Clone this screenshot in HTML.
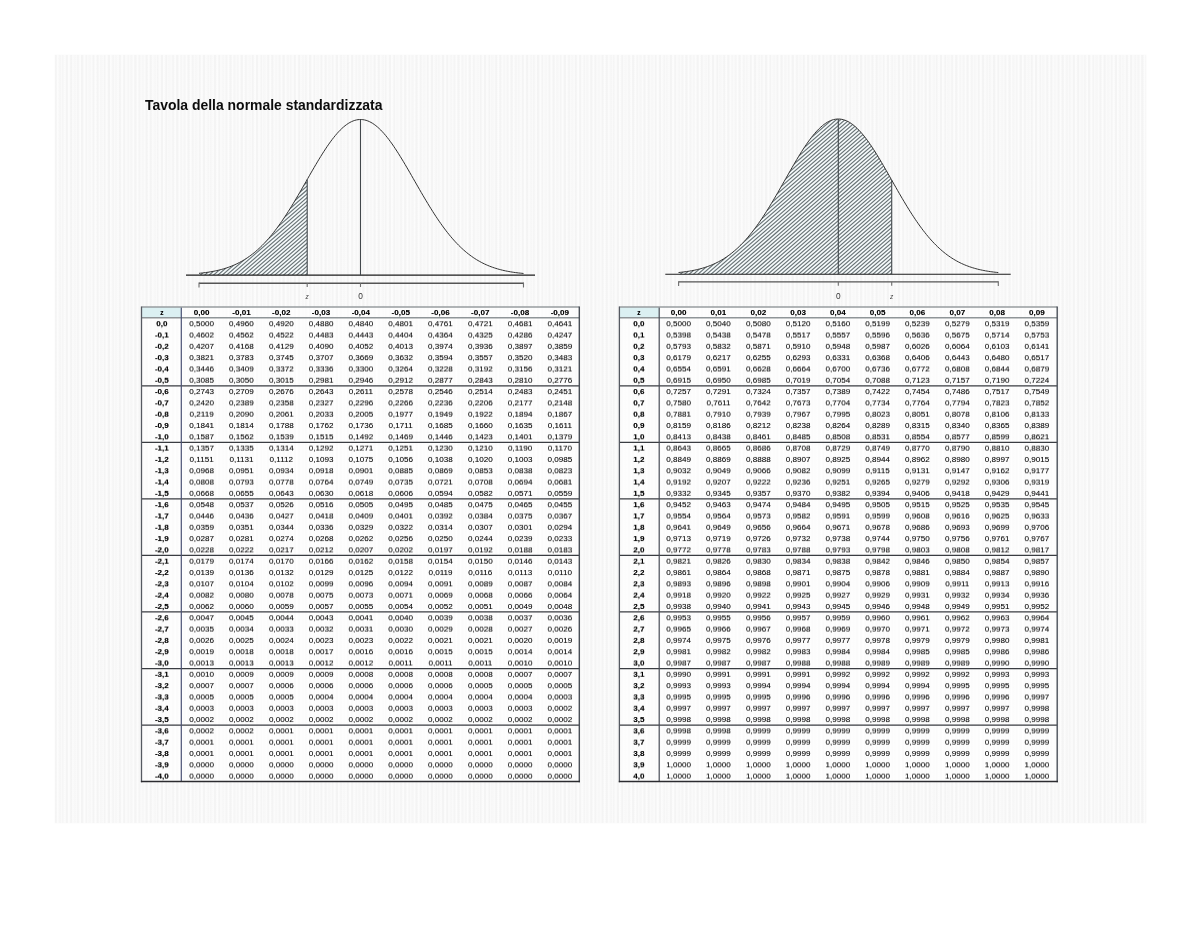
<!DOCTYPE html>
<html><head><meta charset="utf-8"><title>Tavola della normale standardizzata</title>
<style>
html,body{margin:0;padding:0;background:#fff;}
body{width:1200px;height:927px;position:relative;overflow:hidden;font-family:"Liberation Sans",sans-serif;}
.page{position:absolute;left:54.5px;top:54.5px;width:1091px;height:768.5px;background-color:#f9f9f9;
background-image:repeating-linear-gradient(90deg,rgba(0,0,0,0.010) 0px,rgba(0,0,0,0.010) 1.2px,rgba(255,255,255,0.35) 2.2px,rgba(255,255,255,0.35) 2.9px,rgba(0,0,0,0.010) 3.8px),repeating-linear-gradient(90deg,rgba(0,0,0,0.009) 0px,rgba(0,0,0,0.009) 1.6px,rgba(255,255,255,0.3) 2.8px,rgba(255,255,255,0.3) 4.1px,rgba(0,0,0,0.009) 5.3px);box-shadow:0 0 1px 0.4px rgba(249,249,249,0.9);}
.title{position:absolute;left:145px;top:95.7px;font-weight:bold;font-size:15.3px;color:#0c0c0c;white-space:nowrap;transform-origin:0 0;transform:scaleX(0.911);}
.tbl{position:absolute;}
.tbl .r{position:absolute;left:0;width:100%;transform-origin:0 0;filter:blur(0.3px);}
.tbl .c{position:absolute;top:0;height:100%;text-align:center;font-size:8.1px;color:#111;text-shadow:0 0 0.6px rgba(20,20,20,0.45);white-space:nowrap;}
.tbl .b{font-weight:bold;color:#000;}
.lbl{position:absolute;font-size:8.3px;color:#333;filter:blur(0.35px);}
svg{position:absolute;left:0;top:0;}
</style></head><body>
<div class="page"></div>
<div class="title">Tavola della normale standardizzata</div>

<svg width="1200" height="927" viewBox="0 0 1200 927">
<clipPath id="ch1"><path d="M199.00,275.10 L199.00,273.32 L200.08,273.21 L201.16,273.10 L202.25,272.98 L203.33,272.85 L204.41,272.71 L205.49,272.57 L206.57,272.42 L207.66,272.27 L208.74,272.10 L209.82,271.93 L210.90,271.75 L211.98,271.56 L213.07,271.36 L214.15,271.15 L215.23,270.93 L216.31,270.70 L217.39,270.46 L218.48,270.20 L219.56,269.94 L220.64,269.66 L221.72,269.37 L222.80,269.07 L223.89,268.76 L224.97,268.43 L226.05,268.09 L227.13,267.73 L228.21,267.36 L229.30,266.97 L230.38,266.57 L231.46,266.15 L232.54,265.71 L233.62,265.25 L234.71,264.78 L235.79,264.29 L236.87,263.78 L237.95,263.25 L239.03,262.70 L240.12,262.13 L241.20,261.54 L242.28,260.93 L243.36,260.30 L244.44,259.65 L245.53,258.97 L246.61,258.27 L247.69,257.55 L248.77,256.80 L249.85,256.03 L250.94,255.24 L252.02,254.42 L253.10,253.57 L254.18,252.70 L255.26,251.80 L256.35,250.88 L257.43,249.93 L258.51,248.95 L259.59,247.95 L260.67,246.92 L261.76,245.86 L262.84,244.78 L263.92,243.67 L265.00,242.53 L266.08,241.36 L267.17,240.16 L268.25,238.94 L269.33,237.69 L270.41,236.41 L271.49,235.10 L272.58,233.76 L273.66,232.40 L274.74,231.01 L275.82,229.60 L276.90,228.15 L277.99,226.68 L279.07,225.19 L280.15,223.67 L281.23,222.12 L282.31,220.55 L283.40,218.96 L284.48,217.34 L285.56,215.70 L286.64,214.04 L287.72,212.35 L288.81,210.65 L289.89,208.92 L290.97,207.18 L292.05,205.42 L293.13,203.64 L294.22,201.85 L295.30,200.04 L296.38,198.21 L297.46,196.38 L298.54,194.53 L299.63,192.67 L300.71,190.81 L301.79,188.94 L302.87,187.06 L303.95,185.17 L305.04,183.28 L306.12,181.39 L307.20,179.50 L307.20,275.10 Z"/></clipPath>
<path d="M199.00,275.10 L199.00,273.32 L200.08,273.21 L201.16,273.10 L202.25,272.98 L203.33,272.85 L204.41,272.71 L205.49,272.57 L206.57,272.42 L207.66,272.27 L208.74,272.10 L209.82,271.93 L210.90,271.75 L211.98,271.56 L213.07,271.36 L214.15,271.15 L215.23,270.93 L216.31,270.70 L217.39,270.46 L218.48,270.20 L219.56,269.94 L220.64,269.66 L221.72,269.37 L222.80,269.07 L223.89,268.76 L224.97,268.43 L226.05,268.09 L227.13,267.73 L228.21,267.36 L229.30,266.97 L230.38,266.57 L231.46,266.15 L232.54,265.71 L233.62,265.25 L234.71,264.78 L235.79,264.29 L236.87,263.78 L237.95,263.25 L239.03,262.70 L240.12,262.13 L241.20,261.54 L242.28,260.93 L243.36,260.30 L244.44,259.65 L245.53,258.97 L246.61,258.27 L247.69,257.55 L248.77,256.80 L249.85,256.03 L250.94,255.24 L252.02,254.42 L253.10,253.57 L254.18,252.70 L255.26,251.80 L256.35,250.88 L257.43,249.93 L258.51,248.95 L259.59,247.95 L260.67,246.92 L261.76,245.86 L262.84,244.78 L263.92,243.67 L265.00,242.53 L266.08,241.36 L267.17,240.16 L268.25,238.94 L269.33,237.69 L270.41,236.41 L271.49,235.10 L272.58,233.76 L273.66,232.40 L274.74,231.01 L275.82,229.60 L276.90,228.15 L277.99,226.68 L279.07,225.19 L280.15,223.67 L281.23,222.12 L282.31,220.55 L283.40,218.96 L284.48,217.34 L285.56,215.70 L286.64,214.04 L287.72,212.35 L288.81,210.65 L289.89,208.92 L290.97,207.18 L292.05,205.42 L293.13,203.64 L294.22,201.85 L295.30,200.04 L296.38,198.21 L297.46,196.38 L298.54,194.53 L299.63,192.67 L300.71,190.81 L301.79,188.94 L302.87,187.06 L303.95,185.17 L305.04,183.28 L306.12,181.39 L307.20,179.50 L307.20,275.10 Z" fill="#f5fafb" stroke="none"/>
<path d="M197.00,114.50 L309.20,16.97 M197.00,118.30 L309.20,20.77 M197.00,122.11 L309.20,24.57 M197.00,125.91 L309.20,28.37 M197.00,129.71 L309.20,32.18 M197.00,133.51 L309.20,35.98 M197.00,137.32 L309.20,39.78 M197.00,141.12 L309.20,43.59 M197.00,144.92 L309.20,47.39 M197.00,148.73 L309.20,51.19 M197.00,152.53 L309.20,54.99 M197.00,156.33 L309.20,58.80 M197.00,160.13 L309.20,62.60 M197.00,163.94 L309.20,66.40 M197.00,167.74 L309.20,70.21 M197.00,171.54 L309.20,74.01 M197.00,175.34 L309.20,77.81 M197.00,179.15 L309.20,81.61 M197.00,182.95 L309.20,85.42 M197.00,186.75 L309.20,89.22 M197.00,190.56 L309.20,93.02 M197.00,194.36 L309.20,96.82 M197.00,198.16 L309.20,100.63 M197.00,201.96 L309.20,104.43 M197.00,205.77 L309.20,108.23 M197.00,209.57 L309.20,112.04 M197.00,213.37 L309.20,115.84 M197.00,217.18 L309.20,119.64 M197.00,220.98 L309.20,123.44 M197.00,224.78 L309.20,127.25 M197.00,228.58 L309.20,131.05 M197.00,232.39 L309.20,134.85 M197.00,236.19 L309.20,138.66 M197.00,239.99 L309.20,142.46 M197.00,243.79 L309.20,146.26 M197.00,247.60 L309.20,150.06 M197.00,251.40 L309.20,153.87 M197.00,255.20 L309.20,157.67 M197.00,259.01 L309.20,161.47 M197.00,262.81 L309.20,165.27 M197.00,266.61 L309.20,169.08 M197.00,270.41 L309.20,172.88 M197.00,274.22 L309.20,176.68 M197.00,278.02 L309.20,180.49 M197.00,281.82 L309.20,184.29 M197.00,285.63 L309.20,188.09 M197.00,289.43 L309.20,191.89 M197.00,293.23 L309.20,195.70 M197.00,297.03 L309.20,199.50 M197.00,300.84 L309.20,203.30 M197.00,304.64 L309.20,207.11 M197.00,308.44 L309.20,210.91 M197.00,312.24 L309.20,214.71 M197.00,316.05 L309.20,218.51 M197.00,319.85 L309.20,222.32 M197.00,323.65 L309.20,226.12 M197.00,327.46 L309.20,229.92 M197.00,331.26 L309.20,233.72 M197.00,335.06 L309.20,237.53 M197.00,338.86 L309.20,241.33 M197.00,342.67 L309.20,245.13 M197.00,346.47 L309.20,248.94 M197.00,350.27 L309.20,252.74 M197.00,354.08 L309.20,256.54 M197.00,357.88 L309.20,260.34 M197.00,361.68 L309.20,264.15 M197.00,365.48 L309.20,267.95 M197.00,369.29 L309.20,271.75 M197.00,373.09 L309.20,275.56 M197.00,376.89 L309.20,279.36" clip-path="url(#ch1)" fill="none" stroke="#6a7477" stroke-width="1.15"/>
<path d="M199.00,273.32 L200.62,273.16 L202.25,272.98 L203.87,272.78 L205.49,272.57 L207.11,272.35 L208.74,272.10 L210.36,271.84 L211.98,271.56 L213.60,271.25 L215.22,270.93 L216.85,270.58 L218.47,270.20 L220.09,269.80 L221.72,269.38 L223.34,268.92 L224.96,268.43 L226.58,267.91 L228.20,267.36 L229.83,266.77 L231.45,266.15 L233.07,265.49 L234.69,264.79 L236.32,264.04 L237.94,263.26 L239.56,262.43 L241.19,261.55 L242.81,260.63 L244.43,259.66 L246.05,258.63 L247.68,257.56 L249.30,256.43 L250.92,255.25 L252.54,254.01 L254.16,252.71 L255.79,251.36 L257.41,249.95 L259.03,248.47 L260.65,246.94 L262.28,245.34 L263.90,243.69 L265.52,241.97 L267.14,240.18 L268.77,238.34 L270.39,236.43 L272.01,234.46 L273.63,232.43 L275.26,230.34 L276.88,228.19 L278.50,225.97 L280.12,223.70 L281.75,221.38 L283.37,219.00 L284.99,216.56 L286.62,214.08 L288.24,211.54 L289.86,208.97 L291.48,206.35 L293.11,203.69 L294.73,200.99 L296.35,198.26 L297.97,195.51 L299.60,192.73 L301.22,189.93 L302.84,187.11 L304.46,184.28 L306.08,181.45 L307.71,178.61 L309.33,175.78 L310.95,172.96 L312.57,170.15 L314.20,167.36 L315.82,164.60 L317.44,161.87 L319.06,159.18 L320.69,156.53 L322.31,153.93 L323.93,151.38 L325.56,148.90 L327.18,146.48 L328.80,144.13 L330.42,141.86 L332.04,139.67 L333.67,137.57 L335.29,135.57 L336.91,133.66 L338.53,131.85 L340.16,130.16 L341.78,128.57 L343.40,127.11 L345.02,125.76 L346.65,124.54 L348.27,123.44 L349.89,122.47 L351.51,121.64 L353.14,120.94 L354.76,120.38 L356.38,119.95 L358.00,119.67 L359.63,119.52 L361.25,119.52 L362.87,119.65 L364.50,119.93 L366.12,120.34 L367.74,120.89 L369.36,121.58 L370.99,122.41 L372.61,123.36 L374.23,124.45 L375.85,125.66 L377.48,127.00 L379.10,128.46 L380.72,130.03 L382.34,131.72 L383.97,133.52 L385.59,135.42 L387.21,137.42 L388.83,139.51 L390.46,141.69 L392.08,143.95 L393.70,146.30 L395.32,148.71 L396.94,151.19 L398.57,153.73 L400.19,156.33 L401.81,158.98 L403.44,161.67 L405.06,164.40 L406.68,167.16 L408.30,169.94 L409.93,172.75 L411.55,175.57 L413.17,178.40 L414.79,181.24 L416.41,184.07 L418.04,186.90 L419.66,189.72 L421.28,192.52 L422.90,195.30 L424.53,198.06 L426.15,200.79 L427.77,203.49 L429.39,206.15 L431.02,208.77 L432.64,211.35 L434.26,213.89 L435.88,216.38 L437.51,218.81 L439.13,221.20 L440.75,223.53 L442.38,225.80 L444.00,228.02 L445.62,230.18 L447.24,232.28 L448.87,234.31 L450.49,236.29 L452.11,238.20 L453.73,240.05 L455.36,241.83 L456.98,243.56 L458.60,245.22 L460.22,246.82 L461.85,248.36 L463.47,249.84 L465.09,251.25 L466.71,252.61 L468.33,253.91 L469.96,255.16 L471.58,256.34 L473.20,257.47 L474.82,258.55 L476.45,259.58 L478.07,260.56 L479.69,261.48 L481.31,262.36 L482.94,263.20 L484.56,263.99 L486.18,264.73 L487.81,265.44 L489.43,266.10 L491.05,266.73 L492.67,267.32 L494.30,267.87 L495.92,268.39 L497.54,268.88 L499.16,269.34 L500.79,269.77 L502.41,270.18 L504.03,270.55 L505.65,270.90 L507.27,271.23 L508.90,271.53 L510.52,271.82 L512.14,272.08 L513.76,272.33 L515.39,272.56 L517.01,272.77 L518.63,272.96 L520.25,273.14 L521.88,273.31 L523.50,273.47" fill="none" stroke="#333" stroke-width="1"/>
<line x1="186" y1="275.1" x2="535" y2="275.1" stroke="#1c1c1c" stroke-width="1.1"/>
<line x1="360.5" y1="119.5" x2="360.5" y2="275.1" stroke="#42484c" stroke-width="1.1"/>
<line x1="307.2" y1="179.50" x2="307.2" y2="275.1" stroke="#42484c" stroke-width="1.1"/>
<path d="M199,283.2 L523.5,283.2" fill="none" stroke="#555" stroke-width="1.4"/>
<path d="M199,282.5 L199,287.4 M523.5,282.5 L523.5,287.4 M360.5,283.2 L360.5,287.0 M307.2,283.2 L307.2,287.0" fill="none" stroke="#6e6e6e" stroke-width="1.1"/>
<clipPath id="ch2"><path d="M678.60,274.30 L678.60,272.53 L680.73,272.30 L682.86,272.05 L684.99,271.78 L687.12,271.48 L689.25,271.14 L691.39,270.77 L693.52,270.37 L695.65,269.92 L697.78,269.43 L699.91,268.90 L702.04,268.31 L704.17,267.67 L706.30,266.98 L708.43,266.23 L710.57,265.41 L712.70,264.53 L714.83,263.58 L716.96,262.55 L719.09,261.45 L721.22,260.26 L723.35,258.99 L725.48,257.63 L727.61,256.18 L729.74,254.63 L731.88,252.99 L734.01,251.24 L736.14,249.39 L738.27,247.44 L740.40,245.37 L742.53,243.20 L744.66,240.92 L746.79,238.53 L748.92,236.03 L751.05,233.42 L753.19,230.70 L755.32,227.87 L757.45,224.94 L759.58,221.91 L761.71,218.78 L763.84,215.55 L765.97,212.24 L768.10,208.85 L770.23,205.38 L772.36,201.84 L774.50,198.24 L776.63,194.59 L778.76,190.90 L780.89,187.17 L783.02,183.42 L785.15,179.66 L787.28,175.91 L789.41,172.17 L791.54,168.45 L793.67,164.77 L795.81,161.15 L797.94,157.59 L800.07,154.11 L802.20,150.73 L804.33,147.45 L806.46,144.29 L808.59,141.27 L810.72,138.39 L812.85,135.67 L814.98,133.12 L817.12,130.75 L819.25,128.58 L821.38,126.61 L823.51,124.85 L825.64,123.30 L827.77,121.99 L829.90,120.91 L832.03,120.07 L834.16,119.47 L836.29,119.11 L838.43,119.00 L840.56,119.14 L842.69,119.52 L844.82,120.15 L846.95,121.02 L849.08,122.13 L851.21,123.47 L853.34,125.04 L855.47,126.83 L857.60,128.82 L859.74,131.02 L861.87,133.41 L864.00,135.98 L866.13,138.72 L868.26,141.61 L870.39,144.66 L872.52,147.83 L874.65,151.12 L876.78,154.52 L878.91,158.00 L881.05,161.57 L883.18,165.20 L885.31,168.88 L887.44,172.60 L889.57,176.35 L891.70,180.11 L891.70,274.30 Z"/></clipPath>
<path d="M678.60,274.30 L678.60,272.53 L680.73,272.30 L682.86,272.05 L684.99,271.78 L687.12,271.48 L689.25,271.14 L691.39,270.77 L693.52,270.37 L695.65,269.92 L697.78,269.43 L699.91,268.90 L702.04,268.31 L704.17,267.67 L706.30,266.98 L708.43,266.23 L710.57,265.41 L712.70,264.53 L714.83,263.58 L716.96,262.55 L719.09,261.45 L721.22,260.26 L723.35,258.99 L725.48,257.63 L727.61,256.18 L729.74,254.63 L731.88,252.99 L734.01,251.24 L736.14,249.39 L738.27,247.44 L740.40,245.37 L742.53,243.20 L744.66,240.92 L746.79,238.53 L748.92,236.03 L751.05,233.42 L753.19,230.70 L755.32,227.87 L757.45,224.94 L759.58,221.91 L761.71,218.78 L763.84,215.55 L765.97,212.24 L768.10,208.85 L770.23,205.38 L772.36,201.84 L774.50,198.24 L776.63,194.59 L778.76,190.90 L780.89,187.17 L783.02,183.42 L785.15,179.66 L787.28,175.91 L789.41,172.17 L791.54,168.45 L793.67,164.77 L795.81,161.15 L797.94,157.59 L800.07,154.11 L802.20,150.73 L804.33,147.45 L806.46,144.29 L808.59,141.27 L810.72,138.39 L812.85,135.67 L814.98,133.12 L817.12,130.75 L819.25,128.58 L821.38,126.61 L823.51,124.85 L825.64,123.30 L827.77,121.99 L829.90,120.91 L832.03,120.07 L834.16,119.47 L836.29,119.11 L838.43,119.00 L840.56,119.14 L842.69,119.52 L844.82,120.15 L846.95,121.02 L849.08,122.13 L851.21,123.47 L853.34,125.04 L855.47,126.83 L857.60,128.82 L859.74,131.02 L861.87,133.41 L864.00,135.98 L866.13,138.72 L868.26,141.61 L870.39,144.66 L872.52,147.83 L874.65,151.12 L876.78,154.52 L878.91,158.00 L881.05,161.57 L883.18,165.20 L885.31,168.88 L887.44,172.60 L889.57,176.35 L891.70,180.11 L891.70,274.30 Z" fill="#f5fafb" stroke="none"/>
<path d="M676.60,114.00 L893.70,-74.72 M676.60,117.80 L893.70,-70.92 M676.60,121.61 L893.70,-67.12 M676.60,125.41 L893.70,-63.31 M676.60,129.21 L893.70,-59.51 M676.60,133.01 L893.70,-55.71 M676.60,136.82 L893.70,-51.91 M676.60,140.62 L893.70,-48.10 M676.60,144.42 L893.70,-44.30 M676.60,148.23 L893.70,-40.50 M676.60,152.03 L893.70,-36.69 M676.60,155.83 L893.70,-32.89 M676.60,159.63 L893.70,-29.09 M676.60,163.44 L893.70,-25.29 M676.60,167.24 L893.70,-21.48 M676.60,171.04 L893.70,-17.68 M676.60,174.84 L893.70,-13.88 M676.60,178.65 L893.70,-10.07 M676.60,182.45 L893.70,-6.27 M676.60,186.25 L893.70,-2.47 M676.60,190.06 L893.70,1.33 M676.60,193.86 L893.70,5.14 M676.60,197.66 L893.70,8.94 M676.60,201.46 L893.70,12.74 M676.60,205.27 L893.70,16.54 M676.60,209.07 L893.70,20.35 M676.60,212.87 L893.70,24.15 M676.60,216.68 L893.70,27.95 M676.60,220.48 L893.70,31.76 M676.60,224.28 L893.70,35.56 M676.60,228.08 L893.70,39.36 M676.60,231.89 L893.70,43.16 M676.60,235.69 L893.70,46.97 M676.60,239.49 L893.70,50.77 M676.60,243.29 L893.70,54.57 M676.60,247.10 L893.70,58.38 M676.60,250.90 L893.70,62.18 M676.60,254.70 L893.70,65.98 M676.60,258.51 L893.70,69.78 M676.60,262.31 L893.70,73.59 M676.60,266.11 L893.70,77.39 M676.60,269.91 L893.70,81.19 M676.60,273.72 L893.70,84.99 M676.60,277.52 L893.70,88.80 M676.60,281.32 L893.70,92.60 M676.60,285.13 L893.70,96.40 M676.60,288.93 L893.70,100.21 M676.60,292.73 L893.70,104.01 M676.60,296.53 L893.70,107.81 M676.60,300.34 L893.70,111.61 M676.60,304.14 L893.70,115.42 M676.60,307.94 L893.70,119.22 M676.60,311.74 L893.70,123.02 M676.60,315.55 L893.70,126.83 M676.60,319.35 L893.70,130.63 M676.60,323.15 L893.70,134.43 M676.60,326.96 L893.70,138.23 M676.60,330.76 L893.70,142.04 M676.60,334.56 L893.70,145.84 M676.60,338.36 L893.70,149.64 M676.60,342.17 L893.70,153.45 M676.60,345.97 L893.70,157.25 M676.60,349.77 L893.70,161.05 M676.60,353.58 L893.70,164.85 M676.60,357.38 L893.70,168.66 M676.60,361.18 L893.70,172.46 M676.60,364.98 L893.70,176.26 M676.60,368.79 L893.70,180.06 M676.60,372.59 L893.70,183.87 M676.60,376.39 L893.70,187.67 M676.60,380.20 L893.70,191.47 M676.60,384.00 L893.70,195.28 M676.60,387.80 L893.70,199.08 M676.60,391.60 L893.70,202.88 M676.60,395.41 L893.70,206.68 M676.60,399.21 L893.70,210.49 M676.60,403.01 L893.70,214.29 M676.60,406.81 L893.70,218.09 M676.60,410.62 L893.70,221.90 M676.60,414.42 L893.70,225.70 M676.60,418.22 L893.70,229.50 M676.60,422.03 L893.70,233.30 M676.60,425.83 L893.70,237.11 M676.60,429.63 L893.70,240.91 M676.60,433.43 L893.70,244.71 M676.60,437.24 L893.70,248.51 M676.60,441.04 L893.70,252.32 M676.60,444.84 L893.70,256.12 M676.60,448.65 L893.70,259.92 M676.60,452.45 L893.70,263.73 M676.60,456.25 L893.70,267.53 M676.60,460.05 L893.70,271.33 M676.60,463.86 L893.70,275.13 M676.60,467.66 L893.70,278.94" clip-path="url(#ch2)" fill="none" stroke="#6a7477" stroke-width="1.15"/>
<path d="M678.60,272.53 L680.20,272.36 L681.80,272.18 L683.40,271.99 L684.99,271.78 L686.59,271.55 L688.19,271.31 L689.79,271.05 L691.39,270.77 L692.99,270.47 L694.59,270.15 L696.18,269.80 L697.78,269.43 L699.38,269.03 L700.98,268.61 L702.58,268.16 L704.18,267.67 L705.77,267.16 L707.37,266.61 L708.97,266.03 L710.57,265.41 L712.17,264.76 L713.77,264.06 L715.37,263.33 L716.96,262.55 L718.56,261.73 L720.16,260.86 L721.76,259.95 L723.36,258.99 L724.96,257.97 L726.56,256.91 L728.15,255.79 L729.75,254.62 L731.35,253.40 L732.95,252.12 L734.55,250.78 L736.15,249.38 L737.74,247.93 L739.34,246.41 L740.94,244.83 L742.54,243.19 L744.14,241.49 L745.74,239.73 L747.34,237.90 L748.93,236.02 L750.53,234.07 L752.13,232.06 L753.73,229.99 L755.33,227.86 L756.93,225.67 L758.52,223.42 L760.12,221.12 L761.72,218.76 L763.32,216.35 L764.92,213.89 L766.52,211.38 L768.12,208.83 L769.71,206.23 L771.31,203.59 L772.91,200.92 L774.51,198.21 L776.11,195.48 L777.71,192.72 L779.31,189.94 L780.90,187.14 L782.50,184.33 L784.10,181.52 L785.70,178.70 L787.30,175.88 L788.90,173.07 L790.50,170.27 L792.09,167.50 L793.69,164.74 L795.29,162.02 L796.89,159.33 L798.49,156.68 L800.09,154.08 L801.68,151.53 L803.28,149.04 L804.88,146.62 L806.48,144.26 L808.08,141.98 L809.68,139.78 L811.28,137.67 L812.87,135.64 L814.47,133.72 L816.07,131.89 L817.67,130.17 L819.27,128.56 L820.87,127.06 L822.46,125.68 L824.06,124.42 L825.66,123.29 L827.26,122.28 L828.86,121.41 L830.46,120.67 L832.06,120.06 L833.65,119.59 L835.25,119.25 L836.85,119.06 L838.45,119.00 L840.05,119.08 L841.65,119.30 L843.25,119.66 L844.84,120.16 L846.44,120.79 L848.04,121.56 L849.64,122.46 L851.24,123.49 L852.84,124.65 L854.43,125.93 L856.03,127.33 L857.63,128.85 L859.23,130.48 L860.83,132.22 L862.43,134.07 L864.03,136.02 L865.62,138.06 L867.22,140.19 L868.82,142.40 L870.42,144.70 L872.02,147.07 L873.62,149.51 L875.22,152.01 L876.81,154.57 L878.41,157.18 L880.01,159.83 L881.61,162.53 L883.21,165.26 L884.81,168.02 L886.40,170.80 L888.00,173.60 L889.60,176.41 L891.20,179.22 L892.80,182.04 L894.40,184.86 L896.00,187.67 L897.59,190.46 L899.19,193.24 L900.79,195.99 L902.39,198.72 L903.99,201.42 L905.59,204.09 L907.19,206.72 L908.78,209.31 L910.38,211.85 L911.98,214.35 L913.58,216.81 L915.18,219.21 L916.78,221.55 L918.38,223.85 L919.97,226.08 L921.57,228.26 L923.17,230.38 L924.77,232.44 L926.37,234.44 L927.97,236.38 L929.56,238.25 L931.16,240.06 L932.76,241.81 L934.36,243.50 L935.96,245.13 L937.56,246.70 L939.16,248.20 L940.75,249.65 L942.35,251.04 L943.95,252.36 L945.55,253.63 L947.15,254.85 L948.75,256.01 L950.35,257.11 L951.94,258.17 L953.54,259.17 L955.14,260.12 L956.74,261.03 L958.34,261.89 L959.94,262.70 L961.53,263.47 L963.13,264.20 L964.73,264.88 L966.33,265.53 L967.93,266.14 L969.53,266.72 L971.13,267.26 L972.72,267.77 L974.32,268.24 L975.92,268.69 L977.52,269.11 L979.12,269.50 L980.72,269.87 L982.31,270.21 L983.91,270.53 L985.51,270.83 L987.11,271.10 L988.71,271.36 L990.31,271.60 L991.91,271.82 L993.50,272.03 L995.10,272.22 L996.70,272.39 L998.30,272.56" fill="none" stroke="#333" stroke-width="1"/>
<line x1="665.3" y1="274.3" x2="1010.7" y2="274.3" stroke="#1c1c1c" stroke-width="1.1"/>
<line x1="838.3" y1="119" x2="838.3" y2="274.3" stroke="#42484c" stroke-width="1.1"/>
<line x1="891.7" y1="180.11" x2="891.7" y2="274.3" stroke="#42484c" stroke-width="1.1"/>
<path d="M678.6,281.9 L998.3,281.9" fill="none" stroke="#555" stroke-width="1.4"/>
<path d="M678.6,281.2 L678.6,286.09999999999997 M998.3,281.2 L998.3,286.09999999999997 M838.3,281.9 L838.3,285.7 M891.7,281.9 L891.7,285.7" fill="none" stroke="#6e6e6e" stroke-width="1.1"/>
<rect x="141.50" y="307.00" width="437.80" height="474.61" fill="#ffffff" fill-opacity="0.6"/>
<rect x="141.50" y="307.00" width="39.80" height="10.90" fill="#dbf0f2"/>
<line x1="141.50" y1="317.80" x2="579.30" y2="317.80" stroke="#8f9598" stroke-width="1.4"/>
<line x1="141.50" y1="385.76" x2="579.30" y2="385.76" stroke="#3a3d42" stroke-width="1.25"/>
<line x1="141.50" y1="442.31" x2="579.30" y2="442.31" stroke="#3a3d42" stroke-width="1.25"/>
<line x1="141.50" y1="498.86" x2="579.30" y2="498.86" stroke="#3a3d42" stroke-width="1.25"/>
<line x1="141.50" y1="555.41" x2="579.30" y2="555.41" stroke="#3a3d42" stroke-width="1.25"/>
<line x1="141.50" y1="611.96" x2="579.30" y2="611.96" stroke="#3a3d42" stroke-width="1.25"/>
<line x1="141.50" y1="668.51" x2="579.30" y2="668.51" stroke="#3a3d42" stroke-width="1.25"/>
<line x1="141.50" y1="725.06" x2="579.30" y2="725.06" stroke="#3a3d42" stroke-width="1.25"/>
<line x1="181.30" y1="307.00" x2="181.30" y2="781.61" stroke="#4a5274" stroke-width="1.2"/>
<line x1="141.50" y1="307.00" x2="579.30" y2="307.00" stroke="#979d9f" stroke-width="1.4"/>
<line x1="141.50" y1="306.50" x2="141.50" y2="782.21" stroke="#565a62" stroke-width="1.3"/>
<line x1="579.30" y1="306.50" x2="579.30" y2="782.21" stroke="#4a5058" stroke-width="1.4"/>
<line x1="140.90" y1="781.61" x2="580.00" y2="781.61" stroke="#2c2c30" stroke-width="1.5"/>
<rect x="619.40" y="307.00" width="437.80" height="474.61" fill="#ffffff" fill-opacity="0.6"/>
<rect x="619.40" y="307.00" width="39.80" height="10.90" fill="#dbf0f2"/>
<line x1="619.40" y1="317.80" x2="1057.20" y2="317.80" stroke="#8f9598" stroke-width="1.4"/>
<line x1="619.40" y1="385.76" x2="1057.20" y2="385.76" stroke="#3a3d42" stroke-width="1.25"/>
<line x1="619.40" y1="442.31" x2="1057.20" y2="442.31" stroke="#3a3d42" stroke-width="1.25"/>
<line x1="619.40" y1="498.86" x2="1057.20" y2="498.86" stroke="#3a3d42" stroke-width="1.25"/>
<line x1="619.40" y1="555.41" x2="1057.20" y2="555.41" stroke="#3a3d42" stroke-width="1.25"/>
<line x1="619.40" y1="611.96" x2="1057.20" y2="611.96" stroke="#3a3d42" stroke-width="1.25"/>
<line x1="619.40" y1="668.51" x2="1057.20" y2="668.51" stroke="#3a3d42" stroke-width="1.25"/>
<line x1="619.40" y1="725.06" x2="1057.20" y2="725.06" stroke="#3a3d42" stroke-width="1.25"/>
<line x1="659.20" y1="307.00" x2="659.20" y2="781.61" stroke="#4a4e58" stroke-width="1.2"/>
<line x1="619.40" y1="307.00" x2="1057.20" y2="307.00" stroke="#979d9f" stroke-width="1.4"/>
<line x1="619.40" y1="306.50" x2="619.40" y2="782.21" stroke="#565a62" stroke-width="1.3"/>
<line x1="1057.20" y1="306.50" x2="1057.20" y2="782.21" stroke="#4a5058" stroke-width="1.4"/>
<line x1="618.80" y1="781.61" x2="1057.90" y2="781.61" stroke="#2c2c30" stroke-width="1.5"/>
</svg>
<div class="lbl" style="left:358.2px;top:291px">0</div>
<div class="lbl" style="left:305.5px;top:293px;font-size:6.5px;font-style:italic;color:#444">z</div>
<div class="lbl" style="left:835.9px;top:291px">0</div>
<div class="lbl" style="left:889.9px;top:292.6px;font-size:6.5px;font-style:italic;color:#444">z</div>
<div class="tbl" style="left:141.50px;top:0px;width:437.80px;height:783.61px">
<div class="r" style="top:308px;height:10.90px;line-height:10.90px;transform:translateY(0.00px) rotate(0.008deg)"><div class="c b" style="left:0.00px;width:39.80px"><span style="font-size:6.6px">z</span></div><div class="c b" style="left:39.80px;width:39.80px">0,00</div><div class="c b" style="left:79.60px;width:39.80px">-0,01</div><div class="c b" style="left:119.40px;width:39.80px">-0,02</div><div class="c b" style="left:159.20px;width:39.80px">-0,03</div><div class="c b" style="left:199.00px;width:39.80px">-0,04</div><div class="c b" style="left:238.80px;width:39.80px">-0,05</div><div class="c b" style="left:278.60px;width:39.80px">-0,06</div><div class="c b" style="left:318.40px;width:39.80px">-0,07</div><div class="c b" style="left:358.20px;width:39.80px">-0,08</div><div class="c b" style="left:398.00px;width:39.80px">-0,09</div></div>
<div class="r" style="top:318px;height:11.31px;line-height:11.31px;transform:translateY(0.20px) rotate(0.008deg)"><div class="c b" style="left:0.00px;width:39.80px">0,0</div><div class="c" style="left:39.80px;width:39.80px">0,5000</div><div class="c" style="left:79.60px;width:39.80px">0,4960</div><div class="c" style="left:119.40px;width:39.80px">0,4920</div><div class="c" style="left:159.20px;width:39.80px">0,4880</div><div class="c" style="left:199.00px;width:39.80px">0,4840</div><div class="c" style="left:238.80px;width:39.80px">0,4801</div><div class="c" style="left:278.60px;width:39.80px">0,4761</div><div class="c" style="left:318.40px;width:39.80px">0,4721</div><div class="c" style="left:358.20px;width:39.80px">0,4681</div><div class="c" style="left:398.00px;width:39.80px">0,4641</div></div>
<div class="r" style="top:329px;height:11.31px;line-height:11.31px;transform:translateY(0.51px) rotate(0.008deg)"><div class="c b" style="left:0.00px;width:39.80px">-0,1</div><div class="c" style="left:39.80px;width:39.80px">0,4602</div><div class="c" style="left:79.60px;width:39.80px">0,4562</div><div class="c" style="left:119.40px;width:39.80px">0,4522</div><div class="c" style="left:159.20px;width:39.80px">0,4483</div><div class="c" style="left:199.00px;width:39.80px">0,4443</div><div class="c" style="left:238.80px;width:39.80px">0,4404</div><div class="c" style="left:278.60px;width:39.80px">0,4364</div><div class="c" style="left:318.40px;width:39.80px">0,4325</div><div class="c" style="left:358.20px;width:39.80px">0,4286</div><div class="c" style="left:398.00px;width:39.80px">0,4247</div></div>
<div class="r" style="top:340px;height:11.31px;line-height:11.31px;transform:translateY(0.82px) rotate(0.008deg)"><div class="c b" style="left:0.00px;width:39.80px">-0,2</div><div class="c" style="left:39.80px;width:39.80px">0,4207</div><div class="c" style="left:79.60px;width:39.80px">0,4168</div><div class="c" style="left:119.40px;width:39.80px">0,4129</div><div class="c" style="left:159.20px;width:39.80px">0,4090</div><div class="c" style="left:199.00px;width:39.80px">0,4052</div><div class="c" style="left:238.80px;width:39.80px">0,4013</div><div class="c" style="left:278.60px;width:39.80px">0,3974</div><div class="c" style="left:318.40px;width:39.80px">0,3936</div><div class="c" style="left:358.20px;width:39.80px">0,3897</div><div class="c" style="left:398.00px;width:39.80px">0,3859</div></div>
<div class="r" style="top:352px;height:11.31px;line-height:11.31px;transform:translateY(0.13px) rotate(0.008deg)"><div class="c b" style="left:0.00px;width:39.80px">-0,3</div><div class="c" style="left:39.80px;width:39.80px">0,3821</div><div class="c" style="left:79.60px;width:39.80px">0,3783</div><div class="c" style="left:119.40px;width:39.80px">0,3745</div><div class="c" style="left:159.20px;width:39.80px">0,3707</div><div class="c" style="left:199.00px;width:39.80px">0,3669</div><div class="c" style="left:238.80px;width:39.80px">0,3632</div><div class="c" style="left:278.60px;width:39.80px">0,3594</div><div class="c" style="left:318.40px;width:39.80px">0,3557</div><div class="c" style="left:358.20px;width:39.80px">0,3520</div><div class="c" style="left:398.00px;width:39.80px">0,3483</div></div>
<div class="r" style="top:363px;height:11.31px;line-height:11.31px;transform:translateY(0.44px) rotate(0.008deg)"><div class="c b" style="left:0.00px;width:39.80px">-0,4</div><div class="c" style="left:39.80px;width:39.80px">0,3446</div><div class="c" style="left:79.60px;width:39.80px">0,3409</div><div class="c" style="left:119.40px;width:39.80px">0,3372</div><div class="c" style="left:159.20px;width:39.80px">0,3336</div><div class="c" style="left:199.00px;width:39.80px">0,3300</div><div class="c" style="left:238.80px;width:39.80px">0,3264</div><div class="c" style="left:278.60px;width:39.80px">0,3228</div><div class="c" style="left:318.40px;width:39.80px">0,3192</div><div class="c" style="left:358.20px;width:39.80px">0,3156</div><div class="c" style="left:398.00px;width:39.80px">0,3121</div></div>
<div class="r" style="top:374px;height:11.31px;line-height:11.31px;transform:translateY(0.75px) rotate(0.008deg)"><div class="c b" style="left:0.00px;width:39.80px">-0,5</div><div class="c" style="left:39.80px;width:39.80px">0,3085</div><div class="c" style="left:79.60px;width:39.80px">0,3050</div><div class="c" style="left:119.40px;width:39.80px">0,3015</div><div class="c" style="left:159.20px;width:39.80px">0,2981</div><div class="c" style="left:199.00px;width:39.80px">0,2946</div><div class="c" style="left:238.80px;width:39.80px">0,2912</div><div class="c" style="left:278.60px;width:39.80px">0,2877</div><div class="c" style="left:318.40px;width:39.80px">0,2843</div><div class="c" style="left:358.20px;width:39.80px">0,2810</div><div class="c" style="left:398.00px;width:39.80px">0,2776</div></div>
<div class="r" style="top:386px;height:11.31px;line-height:11.31px;transform:translateY(0.06px) rotate(0.008deg)"><div class="c b" style="left:0.00px;width:39.80px">-0,6</div><div class="c" style="left:39.80px;width:39.80px">0,2743</div><div class="c" style="left:79.60px;width:39.80px">0,2709</div><div class="c" style="left:119.40px;width:39.80px">0,2676</div><div class="c" style="left:159.20px;width:39.80px">0,2643</div><div class="c" style="left:199.00px;width:39.80px">0,2611</div><div class="c" style="left:238.80px;width:39.80px">0,2578</div><div class="c" style="left:278.60px;width:39.80px">0,2546</div><div class="c" style="left:318.40px;width:39.80px">0,2514</div><div class="c" style="left:358.20px;width:39.80px">0,2483</div><div class="c" style="left:398.00px;width:39.80px">0,2451</div></div>
<div class="r" style="top:397px;height:11.31px;line-height:11.31px;transform:translateY(0.37px) rotate(0.008deg)"><div class="c b" style="left:0.00px;width:39.80px">-0,7</div><div class="c" style="left:39.80px;width:39.80px">0,2420</div><div class="c" style="left:79.60px;width:39.80px">0,2389</div><div class="c" style="left:119.40px;width:39.80px">0,2358</div><div class="c" style="left:159.20px;width:39.80px">0,2327</div><div class="c" style="left:199.00px;width:39.80px">0,2296</div><div class="c" style="left:238.80px;width:39.80px">0,2266</div><div class="c" style="left:278.60px;width:39.80px">0,2236</div><div class="c" style="left:318.40px;width:39.80px">0,2206</div><div class="c" style="left:358.20px;width:39.80px">0,2177</div><div class="c" style="left:398.00px;width:39.80px">0,2148</div></div>
<div class="r" style="top:408px;height:11.31px;line-height:11.31px;transform:translateY(0.68px) rotate(0.008deg)"><div class="c b" style="left:0.00px;width:39.80px">-0,8</div><div class="c" style="left:39.80px;width:39.80px">0,2119</div><div class="c" style="left:79.60px;width:39.80px">0,2090</div><div class="c" style="left:119.40px;width:39.80px">0,2061</div><div class="c" style="left:159.20px;width:39.80px">0,2033</div><div class="c" style="left:199.00px;width:39.80px">0,2005</div><div class="c" style="left:238.80px;width:39.80px">0,1977</div><div class="c" style="left:278.60px;width:39.80px">0,1949</div><div class="c" style="left:318.40px;width:39.80px">0,1922</div><div class="c" style="left:358.20px;width:39.80px">0,1894</div><div class="c" style="left:398.00px;width:39.80px">0,1867</div></div>
<div class="r" style="top:419px;height:11.31px;line-height:11.31px;transform:translateY(0.99px) rotate(0.008deg)"><div class="c b" style="left:0.00px;width:39.80px">-0,9</div><div class="c" style="left:39.80px;width:39.80px">0,1841</div><div class="c" style="left:79.60px;width:39.80px">0,1814</div><div class="c" style="left:119.40px;width:39.80px">0,1788</div><div class="c" style="left:159.20px;width:39.80px">0,1762</div><div class="c" style="left:199.00px;width:39.80px">0,1736</div><div class="c" style="left:238.80px;width:39.80px">0,1711</div><div class="c" style="left:278.60px;width:39.80px">0,1685</div><div class="c" style="left:318.40px;width:39.80px">0,1660</div><div class="c" style="left:358.20px;width:39.80px">0,1635</div><div class="c" style="left:398.00px;width:39.80px">0,1611</div></div>
<div class="r" style="top:431px;height:11.31px;line-height:11.31px;transform:translateY(0.30px) rotate(0.008deg)"><div class="c b" style="left:0.00px;width:39.80px">-1,0</div><div class="c" style="left:39.80px;width:39.80px">0,1587</div><div class="c" style="left:79.60px;width:39.80px">0,1562</div><div class="c" style="left:119.40px;width:39.80px">0,1539</div><div class="c" style="left:159.20px;width:39.80px">0,1515</div><div class="c" style="left:199.00px;width:39.80px">0,1492</div><div class="c" style="left:238.80px;width:39.80px">0,1469</div><div class="c" style="left:278.60px;width:39.80px">0,1446</div><div class="c" style="left:318.40px;width:39.80px">0,1423</div><div class="c" style="left:358.20px;width:39.80px">0,1401</div><div class="c" style="left:398.00px;width:39.80px">0,1379</div></div>
<div class="r" style="top:442px;height:11.31px;line-height:11.31px;transform:translateY(0.61px) rotate(0.008deg)"><div class="c b" style="left:0.00px;width:39.80px">-1,1</div><div class="c" style="left:39.80px;width:39.80px">0,1357</div><div class="c" style="left:79.60px;width:39.80px">0,1335</div><div class="c" style="left:119.40px;width:39.80px">0,1314</div><div class="c" style="left:159.20px;width:39.80px">0,1292</div><div class="c" style="left:199.00px;width:39.80px">0,1271</div><div class="c" style="left:238.80px;width:39.80px">0,1251</div><div class="c" style="left:278.60px;width:39.80px">0,1230</div><div class="c" style="left:318.40px;width:39.80px">0,1210</div><div class="c" style="left:358.20px;width:39.80px">0,1190</div><div class="c" style="left:398.00px;width:39.80px">0,1170</div></div>
<div class="r" style="top:453px;height:11.31px;line-height:11.31px;transform:translateY(0.92px) rotate(0.008deg)"><div class="c b" style="left:0.00px;width:39.80px">-1,2</div><div class="c" style="left:39.80px;width:39.80px">0,1151</div><div class="c" style="left:79.60px;width:39.80px">0,1131</div><div class="c" style="left:119.40px;width:39.80px">0,1112</div><div class="c" style="left:159.20px;width:39.80px">0,1093</div><div class="c" style="left:199.00px;width:39.80px">0,1075</div><div class="c" style="left:238.80px;width:39.80px">0,1056</div><div class="c" style="left:278.60px;width:39.80px">0,1038</div><div class="c" style="left:318.40px;width:39.80px">0,1020</div><div class="c" style="left:358.20px;width:39.80px">0,1003</div><div class="c" style="left:398.00px;width:39.80px">0,0985</div></div>
<div class="r" style="top:465px;height:11.31px;line-height:11.31px;transform:translateY(0.23px) rotate(0.008deg)"><div class="c b" style="left:0.00px;width:39.80px">-1,3</div><div class="c" style="left:39.80px;width:39.80px">0,0968</div><div class="c" style="left:79.60px;width:39.80px">0,0951</div><div class="c" style="left:119.40px;width:39.80px">0,0934</div><div class="c" style="left:159.20px;width:39.80px">0,0918</div><div class="c" style="left:199.00px;width:39.80px">0,0901</div><div class="c" style="left:238.80px;width:39.80px">0,0885</div><div class="c" style="left:278.60px;width:39.80px">0,0869</div><div class="c" style="left:318.40px;width:39.80px">0,0853</div><div class="c" style="left:358.20px;width:39.80px">0,0838</div><div class="c" style="left:398.00px;width:39.80px">0,0823</div></div>
<div class="r" style="top:476px;height:11.31px;line-height:11.31px;transform:translateY(0.54px) rotate(0.008deg)"><div class="c b" style="left:0.00px;width:39.80px">-1,4</div><div class="c" style="left:39.80px;width:39.80px">0,0808</div><div class="c" style="left:79.60px;width:39.80px">0,0793</div><div class="c" style="left:119.40px;width:39.80px">0,0778</div><div class="c" style="left:159.20px;width:39.80px">0,0764</div><div class="c" style="left:199.00px;width:39.80px">0,0749</div><div class="c" style="left:238.80px;width:39.80px">0,0735</div><div class="c" style="left:278.60px;width:39.80px">0,0721</div><div class="c" style="left:318.40px;width:39.80px">0,0708</div><div class="c" style="left:358.20px;width:39.80px">0,0694</div><div class="c" style="left:398.00px;width:39.80px">0,0681</div></div>
<div class="r" style="top:487px;height:11.31px;line-height:11.31px;transform:translateY(0.85px) rotate(0.008deg)"><div class="c b" style="left:0.00px;width:39.80px">-1,5</div><div class="c" style="left:39.80px;width:39.80px">0,0668</div><div class="c" style="left:79.60px;width:39.80px">0,0655</div><div class="c" style="left:119.40px;width:39.80px">0,0643</div><div class="c" style="left:159.20px;width:39.80px">0,0630</div><div class="c" style="left:199.00px;width:39.80px">0,0618</div><div class="c" style="left:238.80px;width:39.80px">0,0606</div><div class="c" style="left:278.60px;width:39.80px">0,0594</div><div class="c" style="left:318.40px;width:39.80px">0,0582</div><div class="c" style="left:358.20px;width:39.80px">0,0571</div><div class="c" style="left:398.00px;width:39.80px">0,0559</div></div>
<div class="r" style="top:499px;height:11.31px;line-height:11.31px;transform:translateY(0.16px) rotate(0.008deg)"><div class="c b" style="left:0.00px;width:39.80px">-1,6</div><div class="c" style="left:39.80px;width:39.80px">0,0548</div><div class="c" style="left:79.60px;width:39.80px">0,0537</div><div class="c" style="left:119.40px;width:39.80px">0,0526</div><div class="c" style="left:159.20px;width:39.80px">0,0516</div><div class="c" style="left:199.00px;width:39.80px">0,0505</div><div class="c" style="left:238.80px;width:39.80px">0,0495</div><div class="c" style="left:278.60px;width:39.80px">0,0485</div><div class="c" style="left:318.40px;width:39.80px">0,0475</div><div class="c" style="left:358.20px;width:39.80px">0,0465</div><div class="c" style="left:398.00px;width:39.80px">0,0455</div></div>
<div class="r" style="top:510px;height:11.31px;line-height:11.31px;transform:translateY(0.47px) rotate(0.008deg)"><div class="c b" style="left:0.00px;width:39.80px">-1,7</div><div class="c" style="left:39.80px;width:39.80px">0,0446</div><div class="c" style="left:79.60px;width:39.80px">0,0436</div><div class="c" style="left:119.40px;width:39.80px">0,0427</div><div class="c" style="left:159.20px;width:39.80px">0,0418</div><div class="c" style="left:199.00px;width:39.80px">0,0409</div><div class="c" style="left:238.80px;width:39.80px">0,0401</div><div class="c" style="left:278.60px;width:39.80px">0,0392</div><div class="c" style="left:318.40px;width:39.80px">0,0384</div><div class="c" style="left:358.20px;width:39.80px">0,0375</div><div class="c" style="left:398.00px;width:39.80px">0,0367</div></div>
<div class="r" style="top:521px;height:11.31px;line-height:11.31px;transform:translateY(0.78px) rotate(0.008deg)"><div class="c b" style="left:0.00px;width:39.80px">-1,8</div><div class="c" style="left:39.80px;width:39.80px">0,0359</div><div class="c" style="left:79.60px;width:39.80px">0,0351</div><div class="c" style="left:119.40px;width:39.80px">0,0344</div><div class="c" style="left:159.20px;width:39.80px">0,0336</div><div class="c" style="left:199.00px;width:39.80px">0,0329</div><div class="c" style="left:238.80px;width:39.80px">0,0322</div><div class="c" style="left:278.60px;width:39.80px">0,0314</div><div class="c" style="left:318.40px;width:39.80px">0,0307</div><div class="c" style="left:358.20px;width:39.80px">0,0301</div><div class="c" style="left:398.00px;width:39.80px">0,0294</div></div>
<div class="r" style="top:533px;height:11.31px;line-height:11.31px;transform:translateY(0.09px) rotate(0.008deg)"><div class="c b" style="left:0.00px;width:39.80px">-1,9</div><div class="c" style="left:39.80px;width:39.80px">0,0287</div><div class="c" style="left:79.60px;width:39.80px">0,0281</div><div class="c" style="left:119.40px;width:39.80px">0,0274</div><div class="c" style="left:159.20px;width:39.80px">0,0268</div><div class="c" style="left:199.00px;width:39.80px">0,0262</div><div class="c" style="left:238.80px;width:39.80px">0,0256</div><div class="c" style="left:278.60px;width:39.80px">0,0250</div><div class="c" style="left:318.40px;width:39.80px">0,0244</div><div class="c" style="left:358.20px;width:39.80px">0,0239</div><div class="c" style="left:398.00px;width:39.80px">0,0233</div></div>
<div class="r" style="top:544px;height:11.31px;line-height:11.31px;transform:translateY(0.40px) rotate(0.008deg)"><div class="c b" style="left:0.00px;width:39.80px">-2,0</div><div class="c" style="left:39.80px;width:39.80px">0,0228</div><div class="c" style="left:79.60px;width:39.80px">0,0222</div><div class="c" style="left:119.40px;width:39.80px">0,0217</div><div class="c" style="left:159.20px;width:39.80px">0,0212</div><div class="c" style="left:199.00px;width:39.80px">0,0207</div><div class="c" style="left:238.80px;width:39.80px">0,0202</div><div class="c" style="left:278.60px;width:39.80px">0,0197</div><div class="c" style="left:318.40px;width:39.80px">0,0192</div><div class="c" style="left:358.20px;width:39.80px">0,0188</div><div class="c" style="left:398.00px;width:39.80px">0,0183</div></div>
<div class="r" style="top:555px;height:11.31px;line-height:11.31px;transform:translateY(0.71px) rotate(0.008deg)"><div class="c b" style="left:0.00px;width:39.80px">-2,1</div><div class="c" style="left:39.80px;width:39.80px">0,0179</div><div class="c" style="left:79.60px;width:39.80px">0,0174</div><div class="c" style="left:119.40px;width:39.80px">0,0170</div><div class="c" style="left:159.20px;width:39.80px">0,0166</div><div class="c" style="left:199.00px;width:39.80px">0,0162</div><div class="c" style="left:238.80px;width:39.80px">0,0158</div><div class="c" style="left:278.60px;width:39.80px">0,0154</div><div class="c" style="left:318.40px;width:39.80px">0,0150</div><div class="c" style="left:358.20px;width:39.80px">0,0146</div><div class="c" style="left:398.00px;width:39.80px">0,0143</div></div>
<div class="r" style="top:567px;height:11.31px;line-height:11.31px;transform:translateY(0.02px) rotate(0.008deg)"><div class="c b" style="left:0.00px;width:39.80px">-2,2</div><div class="c" style="left:39.80px;width:39.80px">0,0139</div><div class="c" style="left:79.60px;width:39.80px">0,0136</div><div class="c" style="left:119.40px;width:39.80px">0,0132</div><div class="c" style="left:159.20px;width:39.80px">0,0129</div><div class="c" style="left:199.00px;width:39.80px">0,0125</div><div class="c" style="left:238.80px;width:39.80px">0,0122</div><div class="c" style="left:278.60px;width:39.80px">0,0119</div><div class="c" style="left:318.40px;width:39.80px">0,0116</div><div class="c" style="left:358.20px;width:39.80px">0,0113</div><div class="c" style="left:398.00px;width:39.80px">0,0110</div></div>
<div class="r" style="top:578px;height:11.31px;line-height:11.31px;transform:translateY(0.33px) rotate(0.008deg)"><div class="c b" style="left:0.00px;width:39.80px">-2,3</div><div class="c" style="left:39.80px;width:39.80px">0,0107</div><div class="c" style="left:79.60px;width:39.80px">0,0104</div><div class="c" style="left:119.40px;width:39.80px">0,0102</div><div class="c" style="left:159.20px;width:39.80px">0,0099</div><div class="c" style="left:199.00px;width:39.80px">0,0096</div><div class="c" style="left:238.80px;width:39.80px">0,0094</div><div class="c" style="left:278.60px;width:39.80px">0,0091</div><div class="c" style="left:318.40px;width:39.80px">0,0089</div><div class="c" style="left:358.20px;width:39.80px">0,0087</div><div class="c" style="left:398.00px;width:39.80px">0,0084</div></div>
<div class="r" style="top:589px;height:11.31px;line-height:11.31px;transform:translateY(0.64px) rotate(0.008deg)"><div class="c b" style="left:0.00px;width:39.80px">-2,4</div><div class="c" style="left:39.80px;width:39.80px">0,0082</div><div class="c" style="left:79.60px;width:39.80px">0,0080</div><div class="c" style="left:119.40px;width:39.80px">0,0078</div><div class="c" style="left:159.20px;width:39.80px">0,0075</div><div class="c" style="left:199.00px;width:39.80px">0,0073</div><div class="c" style="left:238.80px;width:39.80px">0,0071</div><div class="c" style="left:278.60px;width:39.80px">0,0069</div><div class="c" style="left:318.40px;width:39.80px">0,0068</div><div class="c" style="left:358.20px;width:39.80px">0,0066</div><div class="c" style="left:398.00px;width:39.80px">0,0064</div></div>
<div class="r" style="top:600px;height:11.31px;line-height:11.31px;transform:translateY(0.95px) rotate(0.008deg)"><div class="c b" style="left:0.00px;width:39.80px">-2,5</div><div class="c" style="left:39.80px;width:39.80px">0,0062</div><div class="c" style="left:79.60px;width:39.80px">0,0060</div><div class="c" style="left:119.40px;width:39.80px">0,0059</div><div class="c" style="left:159.20px;width:39.80px">0,0057</div><div class="c" style="left:199.00px;width:39.80px">0,0055</div><div class="c" style="left:238.80px;width:39.80px">0,0054</div><div class="c" style="left:278.60px;width:39.80px">0,0052</div><div class="c" style="left:318.40px;width:39.80px">0,0051</div><div class="c" style="left:358.20px;width:39.80px">0,0049</div><div class="c" style="left:398.00px;width:39.80px">0,0048</div></div>
<div class="r" style="top:612px;height:11.31px;line-height:11.31px;transform:translateY(0.26px) rotate(0.008deg)"><div class="c b" style="left:0.00px;width:39.80px">-2,6</div><div class="c" style="left:39.80px;width:39.80px">0,0047</div><div class="c" style="left:79.60px;width:39.80px">0,0045</div><div class="c" style="left:119.40px;width:39.80px">0,0044</div><div class="c" style="left:159.20px;width:39.80px">0,0043</div><div class="c" style="left:199.00px;width:39.80px">0,0041</div><div class="c" style="left:238.80px;width:39.80px">0,0040</div><div class="c" style="left:278.60px;width:39.80px">0,0039</div><div class="c" style="left:318.40px;width:39.80px">0,0038</div><div class="c" style="left:358.20px;width:39.80px">0,0037</div><div class="c" style="left:398.00px;width:39.80px">0,0036</div></div>
<div class="r" style="top:623px;height:11.31px;line-height:11.31px;transform:translateY(0.57px) rotate(0.008deg)"><div class="c b" style="left:0.00px;width:39.80px">-2,7</div><div class="c" style="left:39.80px;width:39.80px">0,0035</div><div class="c" style="left:79.60px;width:39.80px">0,0034</div><div class="c" style="left:119.40px;width:39.80px">0,0033</div><div class="c" style="left:159.20px;width:39.80px">0,0032</div><div class="c" style="left:199.00px;width:39.80px">0,0031</div><div class="c" style="left:238.80px;width:39.80px">0,0030</div><div class="c" style="left:278.60px;width:39.80px">0,0029</div><div class="c" style="left:318.40px;width:39.80px">0,0028</div><div class="c" style="left:358.20px;width:39.80px">0,0027</div><div class="c" style="left:398.00px;width:39.80px">0,0026</div></div>
<div class="r" style="top:634px;height:11.31px;line-height:11.31px;transform:translateY(0.88px) rotate(0.008deg)"><div class="c b" style="left:0.00px;width:39.80px">-2,8</div><div class="c" style="left:39.80px;width:39.80px">0,0026</div><div class="c" style="left:79.60px;width:39.80px">0,0025</div><div class="c" style="left:119.40px;width:39.80px">0,0024</div><div class="c" style="left:159.20px;width:39.80px">0,0023</div><div class="c" style="left:199.00px;width:39.80px">0,0023</div><div class="c" style="left:238.80px;width:39.80px">0,0022</div><div class="c" style="left:278.60px;width:39.80px">0,0021</div><div class="c" style="left:318.40px;width:39.80px">0,0021</div><div class="c" style="left:358.20px;width:39.80px">0,0020</div><div class="c" style="left:398.00px;width:39.80px">0,0019</div></div>
<div class="r" style="top:646px;height:11.31px;line-height:11.31px;transform:translateY(0.19px) rotate(0.008deg)"><div class="c b" style="left:0.00px;width:39.80px">-2,9</div><div class="c" style="left:39.80px;width:39.80px">0,0019</div><div class="c" style="left:79.60px;width:39.80px">0,0018</div><div class="c" style="left:119.40px;width:39.80px">0,0018</div><div class="c" style="left:159.20px;width:39.80px">0,0017</div><div class="c" style="left:199.00px;width:39.80px">0,0016</div><div class="c" style="left:238.80px;width:39.80px">0,0016</div><div class="c" style="left:278.60px;width:39.80px">0,0015</div><div class="c" style="left:318.40px;width:39.80px">0,0015</div><div class="c" style="left:358.20px;width:39.80px">0,0014</div><div class="c" style="left:398.00px;width:39.80px">0,0014</div></div>
<div class="r" style="top:657px;height:11.31px;line-height:11.31px;transform:translateY(0.50px) rotate(0.008deg)"><div class="c b" style="left:0.00px;width:39.80px">-3,0</div><div class="c" style="left:39.80px;width:39.80px">0,0013</div><div class="c" style="left:79.60px;width:39.80px">0,0013</div><div class="c" style="left:119.40px;width:39.80px">0,0013</div><div class="c" style="left:159.20px;width:39.80px">0,0012</div><div class="c" style="left:199.00px;width:39.80px">0,0012</div><div class="c" style="left:238.80px;width:39.80px">0,0011</div><div class="c" style="left:278.60px;width:39.80px">0,0011</div><div class="c" style="left:318.40px;width:39.80px">0,0011</div><div class="c" style="left:358.20px;width:39.80px">0,0010</div><div class="c" style="left:398.00px;width:39.80px">0,0010</div></div>
<div class="r" style="top:668px;height:11.31px;line-height:11.31px;transform:translateY(0.81px) rotate(0.008deg)"><div class="c b" style="left:0.00px;width:39.80px">-3,1</div><div class="c" style="left:39.80px;width:39.80px">0,0010</div><div class="c" style="left:79.60px;width:39.80px">0,0009</div><div class="c" style="left:119.40px;width:39.80px">0,0009</div><div class="c" style="left:159.20px;width:39.80px">0,0009</div><div class="c" style="left:199.00px;width:39.80px">0,0008</div><div class="c" style="left:238.80px;width:39.80px">0,0008</div><div class="c" style="left:278.60px;width:39.80px">0,0008</div><div class="c" style="left:318.40px;width:39.80px">0,0008</div><div class="c" style="left:358.20px;width:39.80px">0,0007</div><div class="c" style="left:398.00px;width:39.80px">0,0007</div></div>
<div class="r" style="top:680px;height:11.31px;line-height:11.31px;transform:translateY(0.12px) rotate(0.008deg)"><div class="c b" style="left:0.00px;width:39.80px">-3,2</div><div class="c" style="left:39.80px;width:39.80px">0,0007</div><div class="c" style="left:79.60px;width:39.80px">0,0007</div><div class="c" style="left:119.40px;width:39.80px">0,0006</div><div class="c" style="left:159.20px;width:39.80px">0,0006</div><div class="c" style="left:199.00px;width:39.80px">0,0006</div><div class="c" style="left:238.80px;width:39.80px">0,0006</div><div class="c" style="left:278.60px;width:39.80px">0,0006</div><div class="c" style="left:318.40px;width:39.80px">0,0005</div><div class="c" style="left:358.20px;width:39.80px">0,0005</div><div class="c" style="left:398.00px;width:39.80px">0,0005</div></div>
<div class="r" style="top:691px;height:11.31px;line-height:11.31px;transform:translateY(0.43px) rotate(0.008deg)"><div class="c b" style="left:0.00px;width:39.80px">-3,3</div><div class="c" style="left:39.80px;width:39.80px">0,0005</div><div class="c" style="left:79.60px;width:39.80px">0,0005</div><div class="c" style="left:119.40px;width:39.80px">0,0005</div><div class="c" style="left:159.20px;width:39.80px">0,0004</div><div class="c" style="left:199.00px;width:39.80px">0,0004</div><div class="c" style="left:238.80px;width:39.80px">0,0004</div><div class="c" style="left:278.60px;width:39.80px">0,0004</div><div class="c" style="left:318.40px;width:39.80px">0,0004</div><div class="c" style="left:358.20px;width:39.80px">0,0004</div><div class="c" style="left:398.00px;width:39.80px">0,0003</div></div>
<div class="r" style="top:702px;height:11.31px;line-height:11.31px;transform:translateY(0.74px) rotate(0.008deg)"><div class="c b" style="left:0.00px;width:39.80px">-3,4</div><div class="c" style="left:39.80px;width:39.80px">0,0003</div><div class="c" style="left:79.60px;width:39.80px">0,0003</div><div class="c" style="left:119.40px;width:39.80px">0,0003</div><div class="c" style="left:159.20px;width:39.80px">0,0003</div><div class="c" style="left:199.00px;width:39.80px">0,0003</div><div class="c" style="left:238.80px;width:39.80px">0,0003</div><div class="c" style="left:278.60px;width:39.80px">0,0003</div><div class="c" style="left:318.40px;width:39.80px">0,0003</div><div class="c" style="left:358.20px;width:39.80px">0,0003</div><div class="c" style="left:398.00px;width:39.80px">0,0002</div></div>
<div class="r" style="top:714px;height:11.31px;line-height:11.31px;transform:translateY(0.05px) rotate(0.008deg)"><div class="c b" style="left:0.00px;width:39.80px">-3,5</div><div class="c" style="left:39.80px;width:39.80px">0,0002</div><div class="c" style="left:79.60px;width:39.80px">0,0002</div><div class="c" style="left:119.40px;width:39.80px">0,0002</div><div class="c" style="left:159.20px;width:39.80px">0,0002</div><div class="c" style="left:199.00px;width:39.80px">0,0002</div><div class="c" style="left:238.80px;width:39.80px">0,0002</div><div class="c" style="left:278.60px;width:39.80px">0,0002</div><div class="c" style="left:318.40px;width:39.80px">0,0002</div><div class="c" style="left:358.20px;width:39.80px">0,0002</div><div class="c" style="left:398.00px;width:39.80px">0,0002</div></div>
<div class="r" style="top:725px;height:11.31px;line-height:11.31px;transform:translateY(0.36px) rotate(0.008deg)"><div class="c b" style="left:0.00px;width:39.80px">-3,6</div><div class="c" style="left:39.80px;width:39.80px">0,0002</div><div class="c" style="left:79.60px;width:39.80px">0,0002</div><div class="c" style="left:119.40px;width:39.80px">0,0001</div><div class="c" style="left:159.20px;width:39.80px">0,0001</div><div class="c" style="left:199.00px;width:39.80px">0,0001</div><div class="c" style="left:238.80px;width:39.80px">0,0001</div><div class="c" style="left:278.60px;width:39.80px">0,0001</div><div class="c" style="left:318.40px;width:39.80px">0,0001</div><div class="c" style="left:358.20px;width:39.80px">0,0001</div><div class="c" style="left:398.00px;width:39.80px">0,0001</div></div>
<div class="r" style="top:736px;height:11.31px;line-height:11.31px;transform:translateY(0.67px) rotate(0.008deg)"><div class="c b" style="left:0.00px;width:39.80px">-3,7</div><div class="c" style="left:39.80px;width:39.80px">0,0001</div><div class="c" style="left:79.60px;width:39.80px">0,0001</div><div class="c" style="left:119.40px;width:39.80px">0,0001</div><div class="c" style="left:159.20px;width:39.80px">0,0001</div><div class="c" style="left:199.00px;width:39.80px">0,0001</div><div class="c" style="left:238.80px;width:39.80px">0,0001</div><div class="c" style="left:278.60px;width:39.80px">0,0001</div><div class="c" style="left:318.40px;width:39.80px">0,0001</div><div class="c" style="left:358.20px;width:39.80px">0,0001</div><div class="c" style="left:398.00px;width:39.80px">0,0001</div></div>
<div class="r" style="top:747px;height:11.31px;line-height:11.31px;transform:translateY(0.98px) rotate(0.008deg)"><div class="c b" style="left:0.00px;width:39.80px">-3,8</div><div class="c" style="left:39.80px;width:39.80px">0,0001</div><div class="c" style="left:79.60px;width:39.80px">0,0001</div><div class="c" style="left:119.40px;width:39.80px">0,0001</div><div class="c" style="left:159.20px;width:39.80px">0,0001</div><div class="c" style="left:199.00px;width:39.80px">0,0001</div><div class="c" style="left:238.80px;width:39.80px">0,0001</div><div class="c" style="left:278.60px;width:39.80px">0,0001</div><div class="c" style="left:318.40px;width:39.80px">0,0001</div><div class="c" style="left:358.20px;width:39.80px">0,0001</div><div class="c" style="left:398.00px;width:39.80px">0,0001</div></div>
<div class="r" style="top:759px;height:11.31px;line-height:11.31px;transform:translateY(0.29px) rotate(0.008deg)"><div class="c b" style="left:0.00px;width:39.80px">-3,9</div><div class="c" style="left:39.80px;width:39.80px">0,0000</div><div class="c" style="left:79.60px;width:39.80px">0,0000</div><div class="c" style="left:119.40px;width:39.80px">0,0000</div><div class="c" style="left:159.20px;width:39.80px">0,0000</div><div class="c" style="left:199.00px;width:39.80px">0,0000</div><div class="c" style="left:238.80px;width:39.80px">0,0000</div><div class="c" style="left:278.60px;width:39.80px">0,0000</div><div class="c" style="left:318.40px;width:39.80px">0,0000</div><div class="c" style="left:358.20px;width:39.80px">0,0000</div><div class="c" style="left:398.00px;width:39.80px">0,0000</div></div>
<div class="r" style="top:770px;height:11.31px;line-height:11.31px;transform:translateY(0.60px) rotate(0.008deg)"><div class="c b" style="left:0.00px;width:39.80px">-4,0</div><div class="c" style="left:39.80px;width:39.80px">0,0000</div><div class="c" style="left:79.60px;width:39.80px">0,0000</div><div class="c" style="left:119.40px;width:39.80px">0,0000</div><div class="c" style="left:159.20px;width:39.80px">0,0000</div><div class="c" style="left:199.00px;width:39.80px">0,0000</div><div class="c" style="left:238.80px;width:39.80px">0,0000</div><div class="c" style="left:278.60px;width:39.80px">0,0000</div><div class="c" style="left:318.40px;width:39.80px">0,0000</div><div class="c" style="left:358.20px;width:39.80px">0,0000</div><div class="c" style="left:398.00px;width:39.80px">0,0000</div></div>
</div>
<div class="tbl" style="left:619.40px;top:0px;width:437.80px;height:783.61px">
<div class="r" style="top:308px;height:10.90px;line-height:10.90px;transform:translateY(0.00px) rotate(0.008deg)"><div class="c b" style="left:0.00px;width:39.80px"><span style="font-size:6.6px">z</span></div><div class="c b" style="left:39.80px;width:39.80px">0,00</div><div class="c b" style="left:79.60px;width:39.80px">0,01</div><div class="c b" style="left:119.40px;width:39.80px">0,02</div><div class="c b" style="left:159.20px;width:39.80px">0,03</div><div class="c b" style="left:199.00px;width:39.80px">0,04</div><div class="c b" style="left:238.80px;width:39.80px">0,05</div><div class="c b" style="left:278.60px;width:39.80px">0,06</div><div class="c b" style="left:318.40px;width:39.80px">0,07</div><div class="c b" style="left:358.20px;width:39.80px">0,08</div><div class="c b" style="left:398.00px;width:39.80px">0,09</div></div>
<div class="r" style="top:318px;height:11.31px;line-height:11.31px;transform:translateY(0.20px) rotate(0.008deg)"><div class="c b" style="left:0.00px;width:39.80px">0,0</div><div class="c" style="left:39.80px;width:39.80px">0,5000</div><div class="c" style="left:79.60px;width:39.80px">0,5040</div><div class="c" style="left:119.40px;width:39.80px">0,5080</div><div class="c" style="left:159.20px;width:39.80px">0,5120</div><div class="c" style="left:199.00px;width:39.80px">0,5160</div><div class="c" style="left:238.80px;width:39.80px">0,5199</div><div class="c" style="left:278.60px;width:39.80px">0,5239</div><div class="c" style="left:318.40px;width:39.80px">0,5279</div><div class="c" style="left:358.20px;width:39.80px">0,5319</div><div class="c" style="left:398.00px;width:39.80px">0,5359</div></div>
<div class="r" style="top:329px;height:11.31px;line-height:11.31px;transform:translateY(0.51px) rotate(0.008deg)"><div class="c b" style="left:0.00px;width:39.80px">0,1</div><div class="c" style="left:39.80px;width:39.80px">0,5398</div><div class="c" style="left:79.60px;width:39.80px">0,5438</div><div class="c" style="left:119.40px;width:39.80px">0,5478</div><div class="c" style="left:159.20px;width:39.80px">0,5517</div><div class="c" style="left:199.00px;width:39.80px">0,5557</div><div class="c" style="left:238.80px;width:39.80px">0,5596</div><div class="c" style="left:278.60px;width:39.80px">0,5636</div><div class="c" style="left:318.40px;width:39.80px">0,5675</div><div class="c" style="left:358.20px;width:39.80px">0,5714</div><div class="c" style="left:398.00px;width:39.80px">0,5753</div></div>
<div class="r" style="top:340px;height:11.31px;line-height:11.31px;transform:translateY(0.82px) rotate(0.008deg)"><div class="c b" style="left:0.00px;width:39.80px">0,2</div><div class="c" style="left:39.80px;width:39.80px">0,5793</div><div class="c" style="left:79.60px;width:39.80px">0,5832</div><div class="c" style="left:119.40px;width:39.80px">0,5871</div><div class="c" style="left:159.20px;width:39.80px">0,5910</div><div class="c" style="left:199.00px;width:39.80px">0,5948</div><div class="c" style="left:238.80px;width:39.80px">0,5987</div><div class="c" style="left:278.60px;width:39.80px">0,6026</div><div class="c" style="left:318.40px;width:39.80px">0,6064</div><div class="c" style="left:358.20px;width:39.80px">0,6103</div><div class="c" style="left:398.00px;width:39.80px">0,6141</div></div>
<div class="r" style="top:352px;height:11.31px;line-height:11.31px;transform:translateY(0.13px) rotate(0.008deg)"><div class="c b" style="left:0.00px;width:39.80px">0,3</div><div class="c" style="left:39.80px;width:39.80px">0,6179</div><div class="c" style="left:79.60px;width:39.80px">0,6217</div><div class="c" style="left:119.40px;width:39.80px">0,6255</div><div class="c" style="left:159.20px;width:39.80px">0,6293</div><div class="c" style="left:199.00px;width:39.80px">0,6331</div><div class="c" style="left:238.80px;width:39.80px">0,6368</div><div class="c" style="left:278.60px;width:39.80px">0,6406</div><div class="c" style="left:318.40px;width:39.80px">0,6443</div><div class="c" style="left:358.20px;width:39.80px">0,6480</div><div class="c" style="left:398.00px;width:39.80px">0,6517</div></div>
<div class="r" style="top:363px;height:11.31px;line-height:11.31px;transform:translateY(0.44px) rotate(0.008deg)"><div class="c b" style="left:0.00px;width:39.80px">0,4</div><div class="c" style="left:39.80px;width:39.80px">0,6554</div><div class="c" style="left:79.60px;width:39.80px">0,6591</div><div class="c" style="left:119.40px;width:39.80px">0,6628</div><div class="c" style="left:159.20px;width:39.80px">0,6664</div><div class="c" style="left:199.00px;width:39.80px">0,6700</div><div class="c" style="left:238.80px;width:39.80px">0,6736</div><div class="c" style="left:278.60px;width:39.80px">0,6772</div><div class="c" style="left:318.40px;width:39.80px">0,6808</div><div class="c" style="left:358.20px;width:39.80px">0,6844</div><div class="c" style="left:398.00px;width:39.80px">0,6879</div></div>
<div class="r" style="top:374px;height:11.31px;line-height:11.31px;transform:translateY(0.75px) rotate(0.008deg)"><div class="c b" style="left:0.00px;width:39.80px">0,5</div><div class="c" style="left:39.80px;width:39.80px">0,6915</div><div class="c" style="left:79.60px;width:39.80px">0,6950</div><div class="c" style="left:119.40px;width:39.80px">0,6985</div><div class="c" style="left:159.20px;width:39.80px">0,7019</div><div class="c" style="left:199.00px;width:39.80px">0,7054</div><div class="c" style="left:238.80px;width:39.80px">0,7088</div><div class="c" style="left:278.60px;width:39.80px">0,7123</div><div class="c" style="left:318.40px;width:39.80px">0,7157</div><div class="c" style="left:358.20px;width:39.80px">0,7190</div><div class="c" style="left:398.00px;width:39.80px">0,7224</div></div>
<div class="r" style="top:386px;height:11.31px;line-height:11.31px;transform:translateY(0.06px) rotate(0.008deg)"><div class="c b" style="left:0.00px;width:39.80px">0,6</div><div class="c" style="left:39.80px;width:39.80px">0,7257</div><div class="c" style="left:79.60px;width:39.80px">0,7291</div><div class="c" style="left:119.40px;width:39.80px">0,7324</div><div class="c" style="left:159.20px;width:39.80px">0,7357</div><div class="c" style="left:199.00px;width:39.80px">0,7389</div><div class="c" style="left:238.80px;width:39.80px">0,7422</div><div class="c" style="left:278.60px;width:39.80px">0,7454</div><div class="c" style="left:318.40px;width:39.80px">0,7486</div><div class="c" style="left:358.20px;width:39.80px">0,7517</div><div class="c" style="left:398.00px;width:39.80px">0,7549</div></div>
<div class="r" style="top:397px;height:11.31px;line-height:11.31px;transform:translateY(0.37px) rotate(0.008deg)"><div class="c b" style="left:0.00px;width:39.80px">0,7</div><div class="c" style="left:39.80px;width:39.80px">0,7580</div><div class="c" style="left:79.60px;width:39.80px">0,7611</div><div class="c" style="left:119.40px;width:39.80px">0,7642</div><div class="c" style="left:159.20px;width:39.80px">0,7673</div><div class="c" style="left:199.00px;width:39.80px">0,7704</div><div class="c" style="left:238.80px;width:39.80px">0,7734</div><div class="c" style="left:278.60px;width:39.80px">0,7764</div><div class="c" style="left:318.40px;width:39.80px">0,7794</div><div class="c" style="left:358.20px;width:39.80px">0,7823</div><div class="c" style="left:398.00px;width:39.80px">0,7852</div></div>
<div class="r" style="top:408px;height:11.31px;line-height:11.31px;transform:translateY(0.68px) rotate(0.008deg)"><div class="c b" style="left:0.00px;width:39.80px">0,8</div><div class="c" style="left:39.80px;width:39.80px">0,7881</div><div class="c" style="left:79.60px;width:39.80px">0,7910</div><div class="c" style="left:119.40px;width:39.80px">0,7939</div><div class="c" style="left:159.20px;width:39.80px">0,7967</div><div class="c" style="left:199.00px;width:39.80px">0,7995</div><div class="c" style="left:238.80px;width:39.80px">0,8023</div><div class="c" style="left:278.60px;width:39.80px">0,8051</div><div class="c" style="left:318.40px;width:39.80px">0,8078</div><div class="c" style="left:358.20px;width:39.80px">0,8106</div><div class="c" style="left:398.00px;width:39.80px">0,8133</div></div>
<div class="r" style="top:419px;height:11.31px;line-height:11.31px;transform:translateY(0.99px) rotate(0.008deg)"><div class="c b" style="left:0.00px;width:39.80px">0,9</div><div class="c" style="left:39.80px;width:39.80px">0,8159</div><div class="c" style="left:79.60px;width:39.80px">0,8186</div><div class="c" style="left:119.40px;width:39.80px">0,8212</div><div class="c" style="left:159.20px;width:39.80px">0,8238</div><div class="c" style="left:199.00px;width:39.80px">0,8264</div><div class="c" style="left:238.80px;width:39.80px">0,8289</div><div class="c" style="left:278.60px;width:39.80px">0,8315</div><div class="c" style="left:318.40px;width:39.80px">0,8340</div><div class="c" style="left:358.20px;width:39.80px">0,8365</div><div class="c" style="left:398.00px;width:39.80px">0,8389</div></div>
<div class="r" style="top:431px;height:11.31px;line-height:11.31px;transform:translateY(0.30px) rotate(0.008deg)"><div class="c b" style="left:0.00px;width:39.80px">1,0</div><div class="c" style="left:39.80px;width:39.80px">0,8413</div><div class="c" style="left:79.60px;width:39.80px">0,8438</div><div class="c" style="left:119.40px;width:39.80px">0,8461</div><div class="c" style="left:159.20px;width:39.80px">0,8485</div><div class="c" style="left:199.00px;width:39.80px">0,8508</div><div class="c" style="left:238.80px;width:39.80px">0,8531</div><div class="c" style="left:278.60px;width:39.80px">0,8554</div><div class="c" style="left:318.40px;width:39.80px">0,8577</div><div class="c" style="left:358.20px;width:39.80px">0,8599</div><div class="c" style="left:398.00px;width:39.80px">0,8621</div></div>
<div class="r" style="top:442px;height:11.31px;line-height:11.31px;transform:translateY(0.61px) rotate(0.008deg)"><div class="c b" style="left:0.00px;width:39.80px">1,1</div><div class="c" style="left:39.80px;width:39.80px">0,8643</div><div class="c" style="left:79.60px;width:39.80px">0,8665</div><div class="c" style="left:119.40px;width:39.80px">0,8686</div><div class="c" style="left:159.20px;width:39.80px">0,8708</div><div class="c" style="left:199.00px;width:39.80px">0,8729</div><div class="c" style="left:238.80px;width:39.80px">0,8749</div><div class="c" style="left:278.60px;width:39.80px">0,8770</div><div class="c" style="left:318.40px;width:39.80px">0,8790</div><div class="c" style="left:358.20px;width:39.80px">0,8810</div><div class="c" style="left:398.00px;width:39.80px">0,8830</div></div>
<div class="r" style="top:453px;height:11.31px;line-height:11.31px;transform:translateY(0.92px) rotate(0.008deg)"><div class="c b" style="left:0.00px;width:39.80px">1,2</div><div class="c" style="left:39.80px;width:39.80px">0,8849</div><div class="c" style="left:79.60px;width:39.80px">0,8869</div><div class="c" style="left:119.40px;width:39.80px">0,8888</div><div class="c" style="left:159.20px;width:39.80px">0,8907</div><div class="c" style="left:199.00px;width:39.80px">0,8925</div><div class="c" style="left:238.80px;width:39.80px">0,8944</div><div class="c" style="left:278.60px;width:39.80px">0,8962</div><div class="c" style="left:318.40px;width:39.80px">0,8980</div><div class="c" style="left:358.20px;width:39.80px">0,8997</div><div class="c" style="left:398.00px;width:39.80px">0,9015</div></div>
<div class="r" style="top:465px;height:11.31px;line-height:11.31px;transform:translateY(0.23px) rotate(0.008deg)"><div class="c b" style="left:0.00px;width:39.80px">1,3</div><div class="c" style="left:39.80px;width:39.80px">0,9032</div><div class="c" style="left:79.60px;width:39.80px">0,9049</div><div class="c" style="left:119.40px;width:39.80px">0,9066</div><div class="c" style="left:159.20px;width:39.80px">0,9082</div><div class="c" style="left:199.00px;width:39.80px">0,9099</div><div class="c" style="left:238.80px;width:39.80px">0,9115</div><div class="c" style="left:278.60px;width:39.80px">0,9131</div><div class="c" style="left:318.40px;width:39.80px">0,9147</div><div class="c" style="left:358.20px;width:39.80px">0,9162</div><div class="c" style="left:398.00px;width:39.80px">0,9177</div></div>
<div class="r" style="top:476px;height:11.31px;line-height:11.31px;transform:translateY(0.54px) rotate(0.008deg)"><div class="c b" style="left:0.00px;width:39.80px">1,4</div><div class="c" style="left:39.80px;width:39.80px">0,9192</div><div class="c" style="left:79.60px;width:39.80px">0,9207</div><div class="c" style="left:119.40px;width:39.80px">0,9222</div><div class="c" style="left:159.20px;width:39.80px">0,9236</div><div class="c" style="left:199.00px;width:39.80px">0,9251</div><div class="c" style="left:238.80px;width:39.80px">0,9265</div><div class="c" style="left:278.60px;width:39.80px">0,9279</div><div class="c" style="left:318.40px;width:39.80px">0,9292</div><div class="c" style="left:358.20px;width:39.80px">0,9306</div><div class="c" style="left:398.00px;width:39.80px">0,9319</div></div>
<div class="r" style="top:487px;height:11.31px;line-height:11.31px;transform:translateY(0.85px) rotate(0.008deg)"><div class="c b" style="left:0.00px;width:39.80px">1,5</div><div class="c" style="left:39.80px;width:39.80px">0,9332</div><div class="c" style="left:79.60px;width:39.80px">0,9345</div><div class="c" style="left:119.40px;width:39.80px">0,9357</div><div class="c" style="left:159.20px;width:39.80px">0,9370</div><div class="c" style="left:199.00px;width:39.80px">0,9382</div><div class="c" style="left:238.80px;width:39.80px">0,9394</div><div class="c" style="left:278.60px;width:39.80px">0,9406</div><div class="c" style="left:318.40px;width:39.80px">0,9418</div><div class="c" style="left:358.20px;width:39.80px">0,9429</div><div class="c" style="left:398.00px;width:39.80px">0,9441</div></div>
<div class="r" style="top:499px;height:11.31px;line-height:11.31px;transform:translateY(0.16px) rotate(0.008deg)"><div class="c b" style="left:0.00px;width:39.80px">1,6</div><div class="c" style="left:39.80px;width:39.80px">0,9452</div><div class="c" style="left:79.60px;width:39.80px">0,9463</div><div class="c" style="left:119.40px;width:39.80px">0,9474</div><div class="c" style="left:159.20px;width:39.80px">0,9484</div><div class="c" style="left:199.00px;width:39.80px">0,9495</div><div class="c" style="left:238.80px;width:39.80px">0,9505</div><div class="c" style="left:278.60px;width:39.80px">0,9515</div><div class="c" style="left:318.40px;width:39.80px">0,9525</div><div class="c" style="left:358.20px;width:39.80px">0,9535</div><div class="c" style="left:398.00px;width:39.80px">0,9545</div></div>
<div class="r" style="top:510px;height:11.31px;line-height:11.31px;transform:translateY(0.47px) rotate(0.008deg)"><div class="c b" style="left:0.00px;width:39.80px">1,7</div><div class="c" style="left:39.80px;width:39.80px">0,9554</div><div class="c" style="left:79.60px;width:39.80px">0,9564</div><div class="c" style="left:119.40px;width:39.80px">0,9573</div><div class="c" style="left:159.20px;width:39.80px">0,9582</div><div class="c" style="left:199.00px;width:39.80px">0,9591</div><div class="c" style="left:238.80px;width:39.80px">0,9599</div><div class="c" style="left:278.60px;width:39.80px">0,9608</div><div class="c" style="left:318.40px;width:39.80px">0,9616</div><div class="c" style="left:358.20px;width:39.80px">0,9625</div><div class="c" style="left:398.00px;width:39.80px">0,9633</div></div>
<div class="r" style="top:521px;height:11.31px;line-height:11.31px;transform:translateY(0.78px) rotate(0.008deg)"><div class="c b" style="left:0.00px;width:39.80px">1,8</div><div class="c" style="left:39.80px;width:39.80px">0,9641</div><div class="c" style="left:79.60px;width:39.80px">0,9649</div><div class="c" style="left:119.40px;width:39.80px">0,9656</div><div class="c" style="left:159.20px;width:39.80px">0,9664</div><div class="c" style="left:199.00px;width:39.80px">0,9671</div><div class="c" style="left:238.80px;width:39.80px">0,9678</div><div class="c" style="left:278.60px;width:39.80px">0,9686</div><div class="c" style="left:318.40px;width:39.80px">0,9693</div><div class="c" style="left:358.20px;width:39.80px">0,9699</div><div class="c" style="left:398.00px;width:39.80px">0,9706</div></div>
<div class="r" style="top:533px;height:11.31px;line-height:11.31px;transform:translateY(0.09px) rotate(0.008deg)"><div class="c b" style="left:0.00px;width:39.80px">1,9</div><div class="c" style="left:39.80px;width:39.80px">0,9713</div><div class="c" style="left:79.60px;width:39.80px">0,9719</div><div class="c" style="left:119.40px;width:39.80px">0,9726</div><div class="c" style="left:159.20px;width:39.80px">0,9732</div><div class="c" style="left:199.00px;width:39.80px">0,9738</div><div class="c" style="left:238.80px;width:39.80px">0,9744</div><div class="c" style="left:278.60px;width:39.80px">0,9750</div><div class="c" style="left:318.40px;width:39.80px">0,9756</div><div class="c" style="left:358.20px;width:39.80px">0,9761</div><div class="c" style="left:398.00px;width:39.80px">0,9767</div></div>
<div class="r" style="top:544px;height:11.31px;line-height:11.31px;transform:translateY(0.40px) rotate(0.008deg)"><div class="c b" style="left:0.00px;width:39.80px">2,0</div><div class="c" style="left:39.80px;width:39.80px">0,9772</div><div class="c" style="left:79.60px;width:39.80px">0,9778</div><div class="c" style="left:119.40px;width:39.80px">0,9783</div><div class="c" style="left:159.20px;width:39.80px">0,9788</div><div class="c" style="left:199.00px;width:39.80px">0,9793</div><div class="c" style="left:238.80px;width:39.80px">0,9798</div><div class="c" style="left:278.60px;width:39.80px">0,9803</div><div class="c" style="left:318.40px;width:39.80px">0,9808</div><div class="c" style="left:358.20px;width:39.80px">0,9812</div><div class="c" style="left:398.00px;width:39.80px">0,9817</div></div>
<div class="r" style="top:555px;height:11.31px;line-height:11.31px;transform:translateY(0.71px) rotate(0.008deg)"><div class="c b" style="left:0.00px;width:39.80px">2,1</div><div class="c" style="left:39.80px;width:39.80px">0,9821</div><div class="c" style="left:79.60px;width:39.80px">0,9826</div><div class="c" style="left:119.40px;width:39.80px">0,9830</div><div class="c" style="left:159.20px;width:39.80px">0,9834</div><div class="c" style="left:199.00px;width:39.80px">0,9838</div><div class="c" style="left:238.80px;width:39.80px">0,9842</div><div class="c" style="left:278.60px;width:39.80px">0,9846</div><div class="c" style="left:318.40px;width:39.80px">0,9850</div><div class="c" style="left:358.20px;width:39.80px">0,9854</div><div class="c" style="left:398.00px;width:39.80px">0,9857</div></div>
<div class="r" style="top:567px;height:11.31px;line-height:11.31px;transform:translateY(0.02px) rotate(0.008deg)"><div class="c b" style="left:0.00px;width:39.80px">2,2</div><div class="c" style="left:39.80px;width:39.80px">0,9861</div><div class="c" style="left:79.60px;width:39.80px">0,9864</div><div class="c" style="left:119.40px;width:39.80px">0,9868</div><div class="c" style="left:159.20px;width:39.80px">0,9871</div><div class="c" style="left:199.00px;width:39.80px">0,9875</div><div class="c" style="left:238.80px;width:39.80px">0,9878</div><div class="c" style="left:278.60px;width:39.80px">0,9881</div><div class="c" style="left:318.40px;width:39.80px">0,9884</div><div class="c" style="left:358.20px;width:39.80px">0,9887</div><div class="c" style="left:398.00px;width:39.80px">0,9890</div></div>
<div class="r" style="top:578px;height:11.31px;line-height:11.31px;transform:translateY(0.33px) rotate(0.008deg)"><div class="c b" style="left:0.00px;width:39.80px">2,3</div><div class="c" style="left:39.80px;width:39.80px">0,9893</div><div class="c" style="left:79.60px;width:39.80px">0,9896</div><div class="c" style="left:119.40px;width:39.80px">0,9898</div><div class="c" style="left:159.20px;width:39.80px">0,9901</div><div class="c" style="left:199.00px;width:39.80px">0,9904</div><div class="c" style="left:238.80px;width:39.80px">0,9906</div><div class="c" style="left:278.60px;width:39.80px">0,9909</div><div class="c" style="left:318.40px;width:39.80px">0,9911</div><div class="c" style="left:358.20px;width:39.80px">0,9913</div><div class="c" style="left:398.00px;width:39.80px">0,9916</div></div>
<div class="r" style="top:589px;height:11.31px;line-height:11.31px;transform:translateY(0.64px) rotate(0.008deg)"><div class="c b" style="left:0.00px;width:39.80px">2,4</div><div class="c" style="left:39.80px;width:39.80px">0,9918</div><div class="c" style="left:79.60px;width:39.80px">0,9920</div><div class="c" style="left:119.40px;width:39.80px">0,9922</div><div class="c" style="left:159.20px;width:39.80px">0,9925</div><div class="c" style="left:199.00px;width:39.80px">0,9927</div><div class="c" style="left:238.80px;width:39.80px">0,9929</div><div class="c" style="left:278.60px;width:39.80px">0,9931</div><div class="c" style="left:318.40px;width:39.80px">0,9932</div><div class="c" style="left:358.20px;width:39.80px">0,9934</div><div class="c" style="left:398.00px;width:39.80px">0,9936</div></div>
<div class="r" style="top:600px;height:11.31px;line-height:11.31px;transform:translateY(0.95px) rotate(0.008deg)"><div class="c b" style="left:0.00px;width:39.80px">2,5</div><div class="c" style="left:39.80px;width:39.80px">0,9938</div><div class="c" style="left:79.60px;width:39.80px">0,9940</div><div class="c" style="left:119.40px;width:39.80px">0,9941</div><div class="c" style="left:159.20px;width:39.80px">0,9943</div><div class="c" style="left:199.00px;width:39.80px">0,9945</div><div class="c" style="left:238.80px;width:39.80px">0,9946</div><div class="c" style="left:278.60px;width:39.80px">0,9948</div><div class="c" style="left:318.40px;width:39.80px">0,9949</div><div class="c" style="left:358.20px;width:39.80px">0,9951</div><div class="c" style="left:398.00px;width:39.80px">0,9952</div></div>
<div class="r" style="top:612px;height:11.31px;line-height:11.31px;transform:translateY(0.26px) rotate(0.008deg)"><div class="c b" style="left:0.00px;width:39.80px">2,6</div><div class="c" style="left:39.80px;width:39.80px">0,9953</div><div class="c" style="left:79.60px;width:39.80px">0,9955</div><div class="c" style="left:119.40px;width:39.80px">0,9956</div><div class="c" style="left:159.20px;width:39.80px">0,9957</div><div class="c" style="left:199.00px;width:39.80px">0,9959</div><div class="c" style="left:238.80px;width:39.80px">0,9960</div><div class="c" style="left:278.60px;width:39.80px">0,9961</div><div class="c" style="left:318.40px;width:39.80px">0,9962</div><div class="c" style="left:358.20px;width:39.80px">0,9963</div><div class="c" style="left:398.00px;width:39.80px">0,9964</div></div>
<div class="r" style="top:623px;height:11.31px;line-height:11.31px;transform:translateY(0.57px) rotate(0.008deg)"><div class="c b" style="left:0.00px;width:39.80px">2,7</div><div class="c" style="left:39.80px;width:39.80px">0,9965</div><div class="c" style="left:79.60px;width:39.80px">0,9966</div><div class="c" style="left:119.40px;width:39.80px">0,9967</div><div class="c" style="left:159.20px;width:39.80px">0,9968</div><div class="c" style="left:199.00px;width:39.80px">0,9969</div><div class="c" style="left:238.80px;width:39.80px">0,9970</div><div class="c" style="left:278.60px;width:39.80px">0,9971</div><div class="c" style="left:318.40px;width:39.80px">0,9972</div><div class="c" style="left:358.20px;width:39.80px">0,9973</div><div class="c" style="left:398.00px;width:39.80px">0,9974</div></div>
<div class="r" style="top:634px;height:11.31px;line-height:11.31px;transform:translateY(0.88px) rotate(0.008deg)"><div class="c b" style="left:0.00px;width:39.80px">2,8</div><div class="c" style="left:39.80px;width:39.80px">0,9974</div><div class="c" style="left:79.60px;width:39.80px">0,9975</div><div class="c" style="left:119.40px;width:39.80px">0,9976</div><div class="c" style="left:159.20px;width:39.80px">0,9977</div><div class="c" style="left:199.00px;width:39.80px">0,9977</div><div class="c" style="left:238.80px;width:39.80px">0,9978</div><div class="c" style="left:278.60px;width:39.80px">0,9979</div><div class="c" style="left:318.40px;width:39.80px">0,9979</div><div class="c" style="left:358.20px;width:39.80px">0,9980</div><div class="c" style="left:398.00px;width:39.80px">0,9981</div></div>
<div class="r" style="top:646px;height:11.31px;line-height:11.31px;transform:translateY(0.19px) rotate(0.008deg)"><div class="c b" style="left:0.00px;width:39.80px">2,9</div><div class="c" style="left:39.80px;width:39.80px">0,9981</div><div class="c" style="left:79.60px;width:39.80px">0,9982</div><div class="c" style="left:119.40px;width:39.80px">0,9982</div><div class="c" style="left:159.20px;width:39.80px">0,9983</div><div class="c" style="left:199.00px;width:39.80px">0,9984</div><div class="c" style="left:238.80px;width:39.80px">0,9984</div><div class="c" style="left:278.60px;width:39.80px">0,9985</div><div class="c" style="left:318.40px;width:39.80px">0,9985</div><div class="c" style="left:358.20px;width:39.80px">0,9986</div><div class="c" style="left:398.00px;width:39.80px">0,9986</div></div>
<div class="r" style="top:657px;height:11.31px;line-height:11.31px;transform:translateY(0.50px) rotate(0.008deg)"><div class="c b" style="left:0.00px;width:39.80px">3,0</div><div class="c" style="left:39.80px;width:39.80px">0,9987</div><div class="c" style="left:79.60px;width:39.80px">0,9987</div><div class="c" style="left:119.40px;width:39.80px">0,9987</div><div class="c" style="left:159.20px;width:39.80px">0,9988</div><div class="c" style="left:199.00px;width:39.80px">0,9988</div><div class="c" style="left:238.80px;width:39.80px">0,9989</div><div class="c" style="left:278.60px;width:39.80px">0,9989</div><div class="c" style="left:318.40px;width:39.80px">0,9989</div><div class="c" style="left:358.20px;width:39.80px">0,9990</div><div class="c" style="left:398.00px;width:39.80px">0,9990</div></div>
<div class="r" style="top:668px;height:11.31px;line-height:11.31px;transform:translateY(0.81px) rotate(0.008deg)"><div class="c b" style="left:0.00px;width:39.80px">3,1</div><div class="c" style="left:39.80px;width:39.80px">0,9990</div><div class="c" style="left:79.60px;width:39.80px">0,9991</div><div class="c" style="left:119.40px;width:39.80px">0,9991</div><div class="c" style="left:159.20px;width:39.80px">0,9991</div><div class="c" style="left:199.00px;width:39.80px">0,9992</div><div class="c" style="left:238.80px;width:39.80px">0,9992</div><div class="c" style="left:278.60px;width:39.80px">0,9992</div><div class="c" style="left:318.40px;width:39.80px">0,9992</div><div class="c" style="left:358.20px;width:39.80px">0,9993</div><div class="c" style="left:398.00px;width:39.80px">0,9993</div></div>
<div class="r" style="top:680px;height:11.31px;line-height:11.31px;transform:translateY(0.12px) rotate(0.008deg)"><div class="c b" style="left:0.00px;width:39.80px">3,2</div><div class="c" style="left:39.80px;width:39.80px">0,9993</div><div class="c" style="left:79.60px;width:39.80px">0,9993</div><div class="c" style="left:119.40px;width:39.80px">0,9994</div><div class="c" style="left:159.20px;width:39.80px">0,9994</div><div class="c" style="left:199.00px;width:39.80px">0,9994</div><div class="c" style="left:238.80px;width:39.80px">0,9994</div><div class="c" style="left:278.60px;width:39.80px">0,9994</div><div class="c" style="left:318.40px;width:39.80px">0,9995</div><div class="c" style="left:358.20px;width:39.80px">0,9995</div><div class="c" style="left:398.00px;width:39.80px">0,9995</div></div>
<div class="r" style="top:691px;height:11.31px;line-height:11.31px;transform:translateY(0.43px) rotate(0.008deg)"><div class="c b" style="left:0.00px;width:39.80px">3,3</div><div class="c" style="left:39.80px;width:39.80px">0,9995</div><div class="c" style="left:79.60px;width:39.80px">0,9995</div><div class="c" style="left:119.40px;width:39.80px">0,9995</div><div class="c" style="left:159.20px;width:39.80px">0,9996</div><div class="c" style="left:199.00px;width:39.80px">0,9996</div><div class="c" style="left:238.80px;width:39.80px">0,9996</div><div class="c" style="left:278.60px;width:39.80px">0,9996</div><div class="c" style="left:318.40px;width:39.80px">0,9996</div><div class="c" style="left:358.20px;width:39.80px">0,9996</div><div class="c" style="left:398.00px;width:39.80px">0,9997</div></div>
<div class="r" style="top:702px;height:11.31px;line-height:11.31px;transform:translateY(0.74px) rotate(0.008deg)"><div class="c b" style="left:0.00px;width:39.80px">3,4</div><div class="c" style="left:39.80px;width:39.80px">0,9997</div><div class="c" style="left:79.60px;width:39.80px">0,9997</div><div class="c" style="left:119.40px;width:39.80px">0,9997</div><div class="c" style="left:159.20px;width:39.80px">0,9997</div><div class="c" style="left:199.00px;width:39.80px">0,9997</div><div class="c" style="left:238.80px;width:39.80px">0,9997</div><div class="c" style="left:278.60px;width:39.80px">0,9997</div><div class="c" style="left:318.40px;width:39.80px">0,9997</div><div class="c" style="left:358.20px;width:39.80px">0,9997</div><div class="c" style="left:398.00px;width:39.80px">0,9998</div></div>
<div class="r" style="top:714px;height:11.31px;line-height:11.31px;transform:translateY(0.05px) rotate(0.008deg)"><div class="c b" style="left:0.00px;width:39.80px">3,5</div><div class="c" style="left:39.80px;width:39.80px">0,9998</div><div class="c" style="left:79.60px;width:39.80px">0,9998</div><div class="c" style="left:119.40px;width:39.80px">0,9998</div><div class="c" style="left:159.20px;width:39.80px">0,9998</div><div class="c" style="left:199.00px;width:39.80px">0,9998</div><div class="c" style="left:238.80px;width:39.80px">0,9998</div><div class="c" style="left:278.60px;width:39.80px">0,9998</div><div class="c" style="left:318.40px;width:39.80px">0,9998</div><div class="c" style="left:358.20px;width:39.80px">0,9998</div><div class="c" style="left:398.00px;width:39.80px">0,9998</div></div>
<div class="r" style="top:725px;height:11.31px;line-height:11.31px;transform:translateY(0.36px) rotate(0.008deg)"><div class="c b" style="left:0.00px;width:39.80px">3,6</div><div class="c" style="left:39.80px;width:39.80px">0,9998</div><div class="c" style="left:79.60px;width:39.80px">0,9998</div><div class="c" style="left:119.40px;width:39.80px">0,9999</div><div class="c" style="left:159.20px;width:39.80px">0,9999</div><div class="c" style="left:199.00px;width:39.80px">0,9999</div><div class="c" style="left:238.80px;width:39.80px">0,9999</div><div class="c" style="left:278.60px;width:39.80px">0,9999</div><div class="c" style="left:318.40px;width:39.80px">0,9999</div><div class="c" style="left:358.20px;width:39.80px">0,9999</div><div class="c" style="left:398.00px;width:39.80px">0,9999</div></div>
<div class="r" style="top:736px;height:11.31px;line-height:11.31px;transform:translateY(0.67px) rotate(0.008deg)"><div class="c b" style="left:0.00px;width:39.80px">3,7</div><div class="c" style="left:39.80px;width:39.80px">0,9999</div><div class="c" style="left:79.60px;width:39.80px">0,9999</div><div class="c" style="left:119.40px;width:39.80px">0,9999</div><div class="c" style="left:159.20px;width:39.80px">0,9999</div><div class="c" style="left:199.00px;width:39.80px">0,9999</div><div class="c" style="left:238.80px;width:39.80px">0,9999</div><div class="c" style="left:278.60px;width:39.80px">0,9999</div><div class="c" style="left:318.40px;width:39.80px">0,9999</div><div class="c" style="left:358.20px;width:39.80px">0,9999</div><div class="c" style="left:398.00px;width:39.80px">0,9999</div></div>
<div class="r" style="top:747px;height:11.31px;line-height:11.31px;transform:translateY(0.98px) rotate(0.008deg)"><div class="c b" style="left:0.00px;width:39.80px">3,8</div><div class="c" style="left:39.80px;width:39.80px">0,9999</div><div class="c" style="left:79.60px;width:39.80px">0,9999</div><div class="c" style="left:119.40px;width:39.80px">0,9999</div><div class="c" style="left:159.20px;width:39.80px">0,9999</div><div class="c" style="left:199.00px;width:39.80px">0,9999</div><div class="c" style="left:238.80px;width:39.80px">0,9999</div><div class="c" style="left:278.60px;width:39.80px">0,9999</div><div class="c" style="left:318.40px;width:39.80px">0,9999</div><div class="c" style="left:358.20px;width:39.80px">0,9999</div><div class="c" style="left:398.00px;width:39.80px">0,9999</div></div>
<div class="r" style="top:759px;height:11.31px;line-height:11.31px;transform:translateY(0.29px) rotate(0.008deg)"><div class="c b" style="left:0.00px;width:39.80px">3,9</div><div class="c" style="left:39.80px;width:39.80px">1,0000</div><div class="c" style="left:79.60px;width:39.80px">1,0000</div><div class="c" style="left:119.40px;width:39.80px">1,0000</div><div class="c" style="left:159.20px;width:39.80px">1,0000</div><div class="c" style="left:199.00px;width:39.80px">1,0000</div><div class="c" style="left:238.80px;width:39.80px">1,0000</div><div class="c" style="left:278.60px;width:39.80px">1,0000</div><div class="c" style="left:318.40px;width:39.80px">1,0000</div><div class="c" style="left:358.20px;width:39.80px">1,0000</div><div class="c" style="left:398.00px;width:39.80px">1,0000</div></div>
<div class="r" style="top:770px;height:11.31px;line-height:11.31px;transform:translateY(0.60px) rotate(0.008deg)"><div class="c b" style="left:0.00px;width:39.80px">4,0</div><div class="c" style="left:39.80px;width:39.80px">1,0000</div><div class="c" style="left:79.60px;width:39.80px">1,0000</div><div class="c" style="left:119.40px;width:39.80px">1,0000</div><div class="c" style="left:159.20px;width:39.80px">1,0000</div><div class="c" style="left:199.00px;width:39.80px">1,0000</div><div class="c" style="left:238.80px;width:39.80px">1,0000</div><div class="c" style="left:278.60px;width:39.80px">1,0000</div><div class="c" style="left:318.40px;width:39.80px">1,0000</div><div class="c" style="left:358.20px;width:39.80px">1,0000</div><div class="c" style="left:398.00px;width:39.80px">1,0000</div></div>
</div>
</body></html>
